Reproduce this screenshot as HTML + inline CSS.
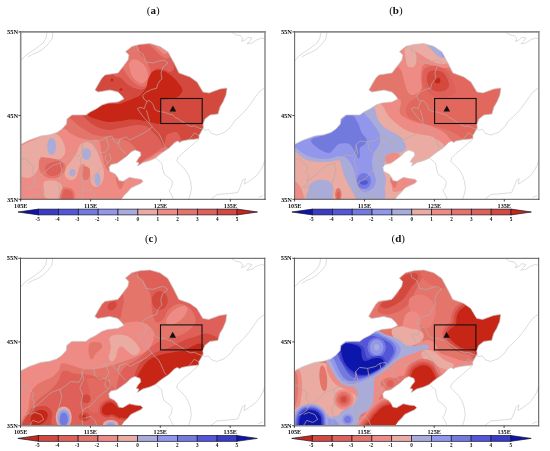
<!DOCTYPE html>
<html><head><meta charset="utf-8"><title>Figure</title>
<style>
html,body{margin:0;padding:0;background:#fff}
svg{display:block}
text{font-family:"Liberation Serif",serif;fill:#111}
.tl text{font-size:7px;font-weight:bold}
.cl text{font-size:5.2px;font-weight:bold}
.ti{font-size:11px}
</style></head><body>
<svg width="550" height="451" viewBox="0 0 550 451">
<rect width="550" height="451" fill="#fff"/>
<defs>
<filter id="soft" x="0" y="0" width="275" height="226" filterUnits="userSpaceOnUse"><feGaussianBlur stdDeviation="0.4"/></filter>
<clipPath id="reg"><path d="M20.7,144.5 L29.0,140.3 L41.0,136.0 L50.0,134.8 L57.0,132.5 L62.0,129.0 L66.5,124.0 L67.0,119.0 L72.0,115.0 L78.0,115.0 L86.0,115.0 L90.0,112.0 L96.0,109.0 L102.0,105.0 L108.0,103.0 L118.0,102.0 L124.0,99.0 L122.0,96.0 L118.0,92.0 L110.0,90.0 L98.0,92.0 L95.0,90.0 L99.0,83.0 L102.0,78.0 L105.0,75.0 L118.0,73.0 L122.0,68.0 L128.0,60.0 L129.0,55.0 L125.6,51.6 L132.0,46.4 L140.0,44.4 L150.0,43.6 L160.0,46.4 L168.0,52.0 L174.0,63.0 L179.0,73.0 L190.0,77.0 L197.0,82.0 L200.0,87.0 L203.0,92.0 L209.0,93.0 L220.0,89.0 L227.0,88.0 L226.0,95.0 L223.0,102.0 L220.0,107.0 L218.0,114.0 L210.0,115.0 L205.0,119.0 L203.0,124.0 L203.4,127.7 L200.9,132.2 L199.0,135.4 L199.0,138.5 L194.5,139.2 L188.2,139.8 L181.8,141.1 L179.9,142.4 L177.4,141.1 L174.8,142.4 L172.3,144.9 L169.1,148.1 L165.3,150.6 L161.5,153.2 L157.6,156.3 L155.1,158.3 L150.0,160.5 L143.0,162.6 L137.6,166.0 L139.0,162.6 L136.3,162.0 L138.3,158.6 L141.0,155.3 L140.3,152.0 L135.0,150.0 L131.0,152.0 L127.0,156.0 L121.6,160.0 L117.0,163.3 L111.0,164.6 L109.0,167.3 L109.6,171.3 L115.0,174.0 L117.6,177.3 L119.0,180.6 L123.0,181.3 L126.3,179.3 L129.6,177.3 L135.0,178.6 L141.0,179.3 L143.0,181.3 L141.0,183.3 L135.0,186.0 L131.0,188.0 L128.3,191.3 L124.3,195.3 L121.5,199.3 L20.7,199.3Z"/></clipPath>
<clipPath id="frm"><rect x="20.7" y="31.9" width="244.3" height="167.4"/></clipPath>
<g id="ov">
<g clip-path="url(#frm)" fill="none" stroke="#c4c4c4" stroke-width="0.6">
<path d="M231.5,31.9 L235.6,34.8 L240.5,35.6 L243.0,38.9 L241.4,41.4 L245.5,39.7 L248.0,37.3 L252.0,38.0 L250.4,40.5 L247.0,43.8 L252.0,43.0 L257.0,39.7 L261.8,38.0 L265.0,39.0"/>
<path d="M264.5,88.0 L259.0,92.0 L254.0,99.0 L249.0,106.0 L244.0,112.0 L239.0,117.0 L234.9,120.5 L232.0,125.0 L230.2,127.5 L224.5,132.3 L217.0,135.1 L211.3,133.2 L208.5,129.4 L204.7,130.4 L203.4,128.0"/>
<path d="M155.6,157.8 L158.3,160.5 L161.8,163.1 L162.7,169.3 L164.5,174.6 L169.8,178.2 L172.5,181.7 L171.6,187.0 L169.0,190.6 L171.6,195.0 L173.4,199.3"/>
<path d="M199.0,139.0 L193.8,143.6 L187.6,149.0 L182.2,153.4 L177.8,157.8 L176.9,161.3 L180.5,164.9 L184.9,169.3 L188.4,174.6 L190.7,181.7 L191.5,188.8 L190.2,195.0 L188.4,199.3"/>
<path d="M211.0,199.3 L212.3,198.3 L217.0,194.5 L228.3,193.6 L237.7,192.6 L240.6,186.0 L242.5,180.4 L245.3,178.5 L244.3,184.2 L249.0,181.3 L256.6,175.7 L261.3,169.0 L263.2,165.3 L265.0,160.0"/>
<path d="M258.5,197.4 L263.2,195.5"/>
<path d="M47.0,31.8 L46.0,38.0 L43.0,43.0 L38.0,47.0 L33.0,50.5 L25.4,55.6 L20.9,60.7"/>
<path d="M53.0,31.8 L52.5,36.0 L52.0,39.0 L48.0,44.0 L43.0,49.0 L38.0,52.0 L33.0,54.0 L28.0,57.0"/>
</g>
<path d="M20.7,144.5 L29.0,140.3 L41.0,136.0 L50.0,134.8 L57.0,132.5 L62.0,129.0 L66.5,124.0 L67.0,119.0 L72.0,115.0 L78.0,115.0 L86.0,115.0 L90.0,112.0 L96.0,109.0 L102.0,105.0 L108.0,103.0 L118.0,102.0 L124.0,99.0 L122.0,96.0 L118.0,92.0 L110.0,90.0 L98.0,92.0 L95.0,90.0 L99.0,83.0 L102.0,78.0 L105.0,75.0 L118.0,73.0 L122.0,68.0 L128.0,60.0 L129.0,55.0 L125.6,51.6 L132.0,46.4 L140.0,44.4 L150.0,43.6 L160.0,46.4 L168.0,52.0 L174.0,63.0 L179.0,73.0 L190.0,77.0 L197.0,82.0 L200.0,87.0 L203.0,92.0 L209.0,93.0 L220.0,89.0 L227.0,88.0 L226.0,95.0 L223.0,102.0 L220.0,107.0 L218.0,114.0 L210.0,115.0 L205.0,119.0 L203.0,124.0 L203.4,127.7 L200.9,132.2 L199.0,135.4 L199.0,138.5 L194.5,139.2 L188.2,139.8 L181.8,141.1 L179.9,142.4 L177.4,141.1 L174.8,142.4 L172.3,144.9 L169.1,148.1 L165.3,150.6 L161.5,153.2 L157.6,156.3 L155.1,158.3 L150.0,160.5 L143.0,162.6 L137.6,166.0 L139.0,162.6 L136.3,162.0 L138.3,158.6 L141.0,155.3 L140.3,152.0 L135.0,150.0 L131.0,152.0 L127.0,156.0 L121.6,160.0 L117.0,163.3 L111.0,164.6 L109.0,167.3 L109.6,171.3 L115.0,174.0 L117.6,177.3 L119.0,180.6 L123.0,181.3 L126.3,179.3 L129.6,177.3 L135.0,178.6 L141.0,179.3 L143.0,181.3 L141.0,183.3 L135.0,186.0 L131.0,188.0 L128.3,191.3 L124.3,195.3" fill="none" stroke="#c9c1c1" stroke-width="0.7"/>
<g fill="none" stroke="#b9aaa8" stroke-width="0.7" stroke-linejoin="round">
<path d="M137.0,46.0 L138.0,51.0 L143.0,54.0 L146.0,62.0 L153.0,63.0 L159.0,61.0 L164.0,60.0 L168.0,63.0 L163.0,67.0 L161.0,73.0 L162.0,79.0 L160.5,80.0 L157.9,83.8 L156.6,88.3 L151.5,89.5 L146.5,92.0 L142.6,95.3 L143.9,99.0 L147.0,101.6 L145.2,105.4 L144.5,108.6 L140.1,107.4 L137.5,108.6 L139.5,111.8 L141.8,115.0 L145.0,118.9 L148.8,122.7 L152.0,126.5 L155.2,130.4 L158.4,132.9 L160.9,137.4 L162.8,141.8 L164.7,146.3 L166.6,148.5"/>
<path d="M147.0,101.6 L149.0,100.4 L151.5,102.3 L153.5,105.4 L154.7,109.3 L157.9,111.2 L161.1,111.8 L165.5,112.4 L168.1,113.7 L173.2,115.0 L175.1,117.5 L178.3,118.8 L180.8,120.7 L184.0,122.6 L187.0,124.6 L190.8,126.5 L194.6,125.9 L198.4,127.8 L202.3,129.0"/>
<path d="M146.3,110.0 L148.2,116.4 L149.5,121.5"/>
<path d="M189.4,139.2 L192.0,136.0 L194.5,132.8 L196.4,134.0 L199.0,135.4"/>
<path d="M25.0,189.0 L29.0,187.0 L33.0,184.0 L35.0,180.0 L39.0,177.0 L45.0,172.0 L49.0,168.0 L54.0,165.0 L60.0,163.0 L65.0,160.0 L71.0,155.0 L79.0,156.0 L82.0,151.0 L82.0,145.0 L86.0,141.0 L94.0,142.0 L102.0,140.0 L106.0,137.0 L112.0,136.0 L114.0,141.0 L118.0,144.0 L120.0,139.0 L126.0,137.0 L130.0,140.0 L136.0,137.0 L144.0,133.0 L150.0,129.0 L152.0,126.5"/>
<path d="M82.0,145.0 L84.0,153.0 L80.0,161.0 L83.0,169.0 L81.0,177.0 L83.0,185.0 L82.0,192.0 L83.0,199.0"/>
<path d="M60.0,163.0 L62.0,170.0 L60.0,178.0 L58.0,184.0 L60.0,190.0 L58.0,199.0"/>
<path d="M21.0,160.0 L26.0,158.0 L29.0,163.0 L34.0,167.0 L32.0,172.0 L35.0,176.0 L33.0,181.0 L35.0,180.0"/>
<path d="M30.0,188.0 L35.0,186.0 L41.0,188.0 L44.0,193.0 L39.0,196.0 L33.0,194.0 L30.0,199.0"/>
<path d="M94.0,142.0 L95.0,149.0 L100.0,153.0 L106.0,152.0 L109.0,147.0 L107.0,141.0 L106.0,137.0"/>
<path d="M109.0,153.0 L111.0,159.0 L108.0,163.0 L105.0,159.0 L106.0,154.0"/>
<path d="M120.0,139.0 L118.0,145.0 L122.0,150.0 L126.0,154.0"/>
<path d="M108.0,163.0 L103.0,167.0 L98.0,171.0 L94.0,176.0 L90.0,180.0 L85.0,182.0 L83.0,185.0"/>
<path d="M83.0,192.0 L91.0,190.0 L95.0,194.0 L97.0,199.0"/>
</g>
</g>
<g id="ov2">
<g stroke="#222" stroke-width="0.8"><path d="M20.7,199.3 v2.2"/><path d="M90.6,199.3 v2.2"/><path d="M160.5,199.3 v2.2"/><path d="M230.4,199.3 v2.2"/><path d="M20.7,31.9 h-2.2"/><path d="M20.7,115.5 h-2.2"/><path d="M20.7,199.3 h-2.2"/></g>
<g class="tl"><text x="14.1" y="207.5" textLength="13.4" lengthAdjust="spacingAndGlyphs">105E</text><text x="83.9" y="207.5" textLength="13.4" lengthAdjust="spacingAndGlyphs">115E</text><text x="153.8" y="207.5" textLength="13.4" lengthAdjust="spacingAndGlyphs">125E</text><text x="223.7" y="207.5" textLength="13.4" lengthAdjust="spacingAndGlyphs">135E</text><text x="7.0" y="34.1" textLength="11" lengthAdjust="spacingAndGlyphs">55N</text><text x="7.0" y="117.7" textLength="11" lengthAdjust="spacingAndGlyphs">45N</text><text x="7.0" y="201.5" textLength="11" lengthAdjust="spacingAndGlyphs">35N</text></g>
<rect x="160.7" y="98.5" width="41.5" height="25" fill="none" stroke="#111" stroke-width="1.1"/>
<path d="M172.9,105.4 L176.2,111.4 L169.6,111.4Z" fill="#111"/>
</g>
</defs>
<g transform="translate(0.0,0.0)">
<g clip-path="url(#reg)"><g filter="url(#soft)">
<rect x="0" y="0" width="275" height="226" fill="#d3493d"/>
<path fill="#df6158" d="M112.0,72.0 C112.5,77.7 118.5,76.0 121.0,78.0 C123.5,80.0 124.8,82.3 127.0,84.0 C129.2,85.7 131.5,87.1 134.0,88.0 C136.5,88.9 139.7,89.8 142.0,89.5 C144.3,89.2 146.6,87.9 148.0,86.0 C149.4,84.1 149.7,80.4 150.5,78.0 C151.3,75.6 151.8,73.1 153.0,71.5 C154.2,69.9 156.0,68.8 158.0,68.5 C160.0,68.2 163.0,69.4 165.0,70.0 C167.0,70.6 168.5,72.3 170.0,72.0 C171.5,71.7 173.5,70.0 174.0,68.0 C174.5,66.0 172.3,63.0 173.0,60.0 C173.7,57.0 180.2,53.7 178.0,50.0 C175.8,46.3 166.3,40.0 160.0,38.0 C153.7,36.0 147.0,37.0 140.0,38.0 C133.0,39.0 122.7,38.3 118.0,44.0 C113.3,49.7 111.5,66.3 112.0,72.0Z"/>
<path fill="#e4746a" d="M118.0,56.0 C117.8,60.3 121.5,64.8 123.0,68.0 C124.5,71.2 125.5,72.8 127.0,75.0 C128.5,77.2 130.2,79.2 132.0,81.0 C133.8,82.8 136.0,84.6 138.0,85.5 C140.0,86.4 142.2,86.9 144.0,86.5 C145.8,86.1 147.4,84.6 148.5,83.0 C149.6,81.4 150.2,79.2 150.5,77.0 C150.8,74.8 150.4,72.2 150.0,70.0 C149.6,67.8 148.8,65.8 148.0,64.0 C147.2,62.2 146.3,60.7 145.0,59.0 C143.7,57.3 141.3,56.2 140.0,54.0 C138.7,51.8 139.7,48.0 137.0,46.0 C134.3,44.0 127.2,40.3 124.0,42.0 C120.8,43.7 118.2,51.7 118.0,56.0Z"/>
<path fill="#ee8b85" d="M129.0,64.0 C128.5,65.8 129.5,68.0 130.0,70.0 C130.5,72.0 131.0,74.2 132.0,76.0 C133.0,77.8 134.5,79.3 136.0,80.5 C137.5,81.7 139.3,83.3 141.0,83.4 C142.7,83.5 144.8,82.2 146.0,81.0 C147.2,79.8 147.8,77.8 148.0,76.0 C148.2,74.2 147.7,71.8 147.0,70.0 C146.3,68.2 145.3,66.5 144.0,65.0 C142.7,63.5 140.8,61.9 139.0,61.0 C137.2,60.1 134.7,59.0 133.0,59.5 C131.3,60.0 129.5,62.2 129.0,64.0Z"/>
<path fill="#e4746a" d="M148.0,42.0 C147.7,43.8 152.0,46.8 154.0,49.0 C156.0,51.2 158.0,53.4 160.0,55.0 C162.0,56.6 164.2,58.3 166.0,58.5 C167.8,58.7 170.0,57.4 171.0,56.0 C172.0,54.6 173.2,52.7 172.0,50.0 C170.8,47.3 166.7,42.0 164.0,40.0 C161.3,38.0 158.7,37.7 156.0,38.0 C153.3,38.3 148.3,40.2 148.0,42.0Z"/>
<path fill="#ee8b85" d="M154.0,44.0 C154.0,45.5 157.3,48.3 159.0,50.0 C160.7,51.7 162.5,53.7 164.0,54.0 C165.5,54.3 167.8,53.3 168.0,52.0 C168.2,50.7 166.5,47.8 165.0,46.0 C163.5,44.2 160.8,41.3 159.0,41.0 C157.2,40.7 154.0,42.5 154.0,44.0Z"/>
<path fill="#c72716" d="M88.0,115.0 C88.3,113.4 95.3,108.5 98.0,107.0 C100.7,105.5 105.3,104.4 108.0,104.0 C110.7,103.6 115.7,104.3 118.0,104.0 C120.3,103.7 123.1,102.7 125.0,102.0 C126.9,101.3 130.0,99.9 132.0,99.0 C134.0,98.1 138.1,97.0 140.0,95.5 C141.9,94.0 144.9,90.1 146.0,88.0 C147.1,85.9 147.2,82.1 148.0,80.0 C148.8,77.9 150.7,73.3 152.0,72.0 C153.3,70.7 156.1,70.0 158.0,70.0 C159.9,70.0 163.9,70.9 166.0,72.0 C168.1,73.1 172.1,76.3 174.0,78.0 C175.9,79.7 178.9,83.4 180.0,85.0 C181.1,86.6 182.5,88.7 182.5,90.0 C182.5,91.3 181.1,93.9 180.0,95.0 C178.9,96.1 176.3,97.9 174.0,98.5 C171.7,99.1 164.8,99.3 163.0,99.5 C161.2,99.7 160.8,96.9 160.5,100.0 C160.2,103.1 161.9,119.9 160.5,122.8 C159.1,125.7 152.7,122.4 150.0,122.0 C147.3,121.6 142.7,120.3 140.0,120.0 C137.3,119.7 132.7,119.4 130.0,119.5 C127.3,119.6 122.9,120.7 120.0,121.0 C117.1,121.3 111.2,122.3 108.0,122.0 C104.8,121.7 98.7,119.9 96.0,119.0 C93.3,118.1 87.7,116.6 88.0,115.0Z"/>
<circle fill="#c72716" cx="112.0" cy="80.0" r="1.5"/>
<circle fill="#c72716" cx="121.0" cy="89.6" r="1.5"/>
<path fill="#df6158" d="M62.0,108.0 C67.0,106.8 76.3,113.0 80.0,114.5 C83.7,116.0 82.0,115.4 84.0,117.0 C86.0,118.6 89.3,122.2 92.0,124.0 C94.7,125.8 97.0,127.0 100.0,128.0 C103.0,129.0 106.7,130.0 110.0,130.0 C113.3,130.0 116.7,128.7 120.0,128.0 C123.3,127.3 126.7,126.5 130.0,126.0 C133.3,125.5 137.0,124.8 140.0,125.0 C143.0,125.2 146.0,126.0 148.0,127.0 C150.0,128.0 150.7,129.7 152.0,131.0 C153.3,132.3 154.7,133.5 156.0,135.0 C157.3,136.5 158.7,138.0 160.0,140.0 C161.3,142.0 162.3,145.0 164.0,147.0 C165.7,149.0 167.3,149.5 170.0,152.0 C172.7,154.5 178.3,152.3 180.0,162.0 C181.7,171.7 208.3,202.0 180.0,210.0 C151.7,218.0 38.3,223.7 10.0,210.0 C-18.3,196.3 3.3,142.7 10.0,128.0 C16.7,113.3 41.3,125.3 50.0,122.0 C58.7,118.7 57.0,109.2 62.0,108.0Z"/>
<path fill="#e4746a" d="M56.0,112.0 C65.7,110.2 64.3,114.8 68.0,117.0 C71.7,119.2 74.3,122.3 78.0,125.0 C81.7,127.7 86.3,131.2 90.0,133.0 C93.7,134.8 96.8,135.3 100.0,136.0 C103.2,136.7 105.8,136.6 109.0,137.0 C112.2,137.4 115.8,137.8 119.0,138.5 C122.2,139.2 125.7,140.3 128.0,141.5 C130.3,142.7 131.7,144.1 133.0,145.5 C134.3,146.9 135.8,147.9 136.0,150.0 C136.2,152.1 135.0,148.0 134.0,158.0 C133.0,168.0 150.7,201.3 130.0,210.0 C109.3,218.7 30.0,223.7 10.0,210.0 C-10.0,196.3 2.3,144.3 10.0,128.0 C17.7,111.7 46.3,113.8 56.0,112.0Z"/>
<path fill="#df6158" d="M166.5,135.4 C167.5,133.9 169.3,133.5 171.0,133.0 C172.7,132.5 175.1,131.4 176.7,132.2 C178.3,133.0 179.9,136.0 180.5,138.0 C181.1,140.0 181.4,143.0 180.5,144.0 C179.6,145.0 176.8,143.2 175.0,144.0 C173.2,144.8 171.8,148.2 170.0,149.0 C168.2,149.8 164.8,150.2 164.0,149.0 C163.2,147.8 164.6,144.3 165.0,142.0 C165.4,139.7 165.5,136.9 166.5,135.4Z"/>
<path fill="#e4746a" d="M138.0,172.0 C134.8,171.2 139.7,165.2 141.0,163.0 C142.3,160.8 144.2,159.8 146.0,158.5 C147.8,157.2 150.0,156.2 152.0,155.0 C154.0,153.8 156.2,152.2 158.0,151.0 C159.8,149.8 161.3,147.7 163.0,147.5 C164.7,147.3 168.5,146.6 168.0,150.0 C167.5,153.4 165.0,164.3 160.0,168.0 C155.0,171.7 141.2,172.8 138.0,172.0Z"/>
<path fill="#ee8b85" d="M10.0,126.0 C18.3,112.3 50.0,126.8 60.0,128.0 C70.0,129.2 66.7,131.3 70.0,133.0 C73.3,134.7 76.7,136.8 80.0,138.0 C83.3,139.2 87.2,139.8 90.0,140.0 C92.8,140.2 95.3,139.0 97.0,139.5 C98.7,140.0 99.3,141.2 100.0,143.0 C100.7,144.8 100.5,147.5 101.0,150.0 C101.5,152.5 102.4,155.5 103.0,158.0 C103.6,160.5 103.8,163.0 104.5,165.0 C105.2,167.0 106.2,168.8 107.5,170.0 C108.8,171.2 110.6,171.0 112.0,172.0 C113.4,173.0 114.8,174.2 116.0,176.0 C117.2,177.8 117.3,182.7 119.0,183.0 C120.7,183.3 123.3,179.3 126.0,178.0 C128.7,176.7 131.0,175.3 135.0,175.0 C139.0,174.7 147.5,170.2 150.0,176.0 C152.5,181.8 173.3,204.3 150.0,210.0 C126.7,215.7 33.3,224.0 10.0,210.0 C-13.3,196.0 1.7,139.7 10.0,126.0Z"/>
<path fill="#ee8b85" d="M142.0,163.0 C143.3,161.0 147.0,159.8 150.0,158.0 C153.0,156.2 157.3,152.7 160.0,152.0 C162.7,151.3 166.7,151.8 166.0,154.0 C165.3,156.2 160.0,162.3 156.0,165.0 C152.0,167.7 144.3,170.3 142.0,170.0 C139.7,169.7 140.7,165.0 142.0,163.0Z"/>
<path fill="#e4746a" d="M116.0,178.0 C117.0,177.0 123.2,178.2 124.0,180.0 C124.8,181.8 122.0,188.0 121.0,189.0 C120.0,190.0 118.8,187.8 118.0,186.0 C117.2,184.2 115.0,179.0 116.0,178.0Z"/>
<path fill="#e9aba2" d="M18.0,150.0 C19.5,145.2 24.3,144.7 27.0,143.0 C29.7,141.3 30.7,141.5 34.0,140.0 C37.3,138.5 43.0,134.8 47.0,134.0 C51.0,133.2 55.2,133.3 58.0,135.0 C60.8,136.7 62.8,141.0 64.0,144.0 C65.2,147.0 65.7,150.5 65.0,153.0 C64.3,155.5 62.7,158.0 60.0,159.0 C57.3,160.0 52.2,159.3 49.0,159.0 C45.8,158.7 42.7,155.8 41.0,157.0 C39.3,158.2 40.0,163.2 39.0,166.0 C38.0,168.8 37.0,172.0 35.0,174.0 C33.0,176.0 29.8,178.3 27.0,178.0 C24.2,177.7 19.5,176.7 18.0,172.0 C16.5,167.3 16.5,154.8 18.0,150.0Z"/>
<path fill="#e9aba2" d="M80.0,145.0 C81.5,143.3 84.0,142.2 86.0,142.0 C88.0,141.8 90.2,142.5 92.0,144.0 C93.8,145.5 95.7,148.5 97.0,151.0 C98.3,153.5 99.0,156.3 100.0,159.0 C101.0,161.7 102.3,164.3 103.0,167.0 C103.7,169.7 104.2,172.3 104.0,175.0 C103.8,177.7 103.3,181.0 102.0,183.0 C100.7,185.0 97.8,187.0 96.0,187.0 C94.2,187.0 92.0,185.0 91.0,183.0 C90.0,181.0 90.7,177.3 90.0,175.0 C89.3,172.7 88.0,170.8 87.0,169.0 C86.0,167.2 85.2,164.5 84.0,164.0 C82.8,163.5 81.0,164.7 80.0,166.0 C79.0,167.3 78.7,170.0 78.0,172.0 C77.3,174.0 77.3,176.7 76.0,178.0 C74.7,179.3 71.8,180.3 70.0,180.0 C68.2,179.7 65.7,178.0 65.0,176.0 C64.3,174.0 64.8,170.7 66.0,168.0 C67.2,165.3 70.2,162.7 72.0,160.0 C73.8,157.3 75.7,154.5 77.0,152.0 C78.3,149.5 78.5,146.7 80.0,145.0Z"/>
<path fill="#e4746a" d="M41.0,158.0 C43.7,156.7 51.2,158.2 55.0,159.0 C58.8,159.8 62.3,161.2 64.0,163.0 C65.7,164.8 65.8,167.7 65.0,170.0 C64.2,172.3 61.7,175.7 59.0,177.0 C56.3,178.3 51.8,178.5 49.0,178.0 C46.2,177.5 43.7,175.8 42.0,174.0 C40.3,172.2 39.2,169.7 39.0,167.0 C38.8,164.3 38.3,159.3 41.0,158.0Z"/>
<path fill="#df6158" d="M45.0,168.0 C45.2,165.9 47.8,164.1 50.0,163.0 C52.2,161.9 55.8,161.3 58.0,161.5 C60.2,161.7 62.3,162.6 63.0,164.0 C63.7,165.4 63.0,168.2 62.0,170.0 C61.0,171.8 59.2,174.1 57.0,175.0 C54.8,175.9 51.0,176.7 49.0,175.5 C47.0,174.3 44.8,170.1 45.0,168.0Z"/>
<path fill="#e4746a" d="M83.0,167.0 C84.0,165.3 87.8,166.7 89.0,168.0 C90.2,169.3 90.3,173.0 90.0,175.0 C89.7,177.0 88.2,179.5 87.0,180.0 C85.8,180.5 83.7,180.2 83.0,178.0 C82.3,175.8 82.0,168.7 83.0,167.0Z"/>
<path fill="#e9aba2" d="M44.0,182.0 C45.3,180.4 49.3,180.3 52.0,180.5 C54.7,180.7 58.2,181.4 60.0,183.0 C61.8,184.6 62.5,187.5 62.5,190.0 C62.5,192.5 62.8,196.7 60.0,198.0 C57.2,199.3 48.7,199.3 46.0,198.0 C43.3,196.7 44.3,192.7 44.0,190.0 C43.7,187.3 42.7,183.6 44.0,182.0Z"/>
<path fill="#e4746a" d="M62.0,189.0 C63.3,186.4 66.2,187.3 68.0,187.5 C69.8,187.7 71.8,188.4 73.0,190.0 C74.2,191.6 75.2,194.8 75.0,197.0 C74.8,199.2 74.5,202.0 72.0,203.0 C69.5,204.0 61.7,205.3 60.0,203.0 C58.3,200.7 60.7,191.6 62.0,189.0Z"/>
<path fill="#df6158" d="M63.5,191.0 C64.5,188.8 66.6,189.3 68.0,189.5 C69.4,189.7 71.2,190.6 72.0,192.0 C72.8,193.4 73.3,196.2 73.0,198.0 C72.7,199.8 71.8,202.2 70.0,203.0 C68.2,203.8 63.1,205.0 62.0,203.0 C60.9,201.0 62.5,193.2 63.5,191.0Z"/>
<ellipse fill="#a9abd9" cx="51.6" cy="146.5" rx="4.4" ry="8.4" transform="rotate(0 51.6 146.5)"/>
<ellipse fill="#a9abd9" cx="86.5" cy="154.0" rx="4.4" ry="6.0" transform="rotate(0 86.5 154.0)"/>
<ellipse fill="#a9abd9" cx="72.4" cy="172.6" rx="3.0" ry="3.7" transform="rotate(0 72.4 172.6)"/>
<ellipse fill="#a9abd9" cx="97.6" cy="179.5" rx="3.0" ry="6.4" transform="rotate(0 97.6 179.5)"/>
</g></g>
<use href="#ov"/>
<path d="M20.7,31.1 V199.8" fill="none" stroke="#8a8a8a" stroke-width="1.6"/><path d="M265.0,31.1 V199.8" fill="none" stroke="#8a8a8a" stroke-width="1.5"/><path d="M19.9,31.9 H265.8" fill="none" stroke="#8a8a8a" stroke-width="1.6"/><path d="M19.9,199.3 H265.8" fill="none" stroke="#444" stroke-width="0.9"/>
<use href="#ov2"/>
<g stroke="#15152a" stroke-width="0.7" stroke-linejoin="miter"><path d="M38.6,209.1 L18.0,212.0 L38.6,214.9 Z" fill="#0c14aa"/><rect x="38.60" y="209.1" width="19.85" height="5.8" fill="#3a3cc6"/><rect x="58.45" y="209.1" width="19.85" height="5.8" fill="#5356d8"/><rect x="78.30" y="209.1" width="19.85" height="5.8" fill="#737ade"/><rect x="98.15" y="209.1" width="19.85" height="5.8" fill="#9297ec"/><rect x="118.00" y="209.1" width="19.85" height="5.8" fill="#a9abd9"/><rect x="137.85" y="209.1" width="19.85" height="5.8" fill="#e9aba2"/><rect x="157.70" y="209.1" width="19.85" height="5.8" fill="#ee8b85"/><rect x="177.55" y="209.1" width="19.85" height="5.8" fill="#e4746a"/><rect x="197.40" y="209.1" width="19.85" height="5.8" fill="#df6158"/><rect x="217.25" y="209.1" width="19.85" height="5.8" fill="#d3493d"/><path d="M237.1,209.1 L257.5,212.0 L237.1,214.9 Z" fill="#c72716"/></g>
<g class="cl"><text x="37.6" y="220.6" text-anchor="middle">-5</text><text x="57.5" y="220.6" text-anchor="middle">-4</text><text x="77.3" y="220.6" text-anchor="middle">-3</text><text x="97.2" y="220.6" text-anchor="middle">-2</text><text x="117.0" y="220.6" text-anchor="middle">-1</text><text x="137.8" y="220.6" text-anchor="middle">0</text><text x="157.7" y="220.6" text-anchor="middle">1</text><text x="177.6" y="220.6" text-anchor="middle">2</text><text x="197.4" y="220.6" text-anchor="middle">3</text><text x="217.2" y="220.6" text-anchor="middle">4</text><text x="237.1" y="220.6" text-anchor="middle">5</text></g>
</g>
<text class="ti" x="153.2" y="14.2" text-anchor="middle">(<tspan font-weight="bold">a</tspan>)</text>
<g transform="translate(273.9,0.0)">
<g clip-path="url(#reg)"><g filter="url(#soft)">
<rect x="0" y="0" width="275" height="226" fill="#e4746a"/>
<path fill="#e2675d" d="M150.0,70.0 C151.7,66.7 155.3,66.7 158.0,66.0 C160.7,65.3 163.3,65.3 166.0,66.0 C168.7,66.7 171.3,68.7 174.0,70.0 C176.7,71.3 179.3,73.7 182.0,74.0 C184.7,74.3 187.0,72.7 190.0,72.0 C193.0,71.3 191.7,70.3 200.0,70.0 C208.3,69.7 233.3,57.5 240.0,70.0 C246.7,82.5 247.3,133.2 240.0,145.0 C232.7,156.8 204.7,142.2 196.0,141.0 C187.3,139.8 190.3,139.2 188.0,138.0 C185.7,136.8 184.3,135.3 182.0,134.0 C179.7,132.7 177.7,131.3 174.0,130.0 C170.3,128.7 164.7,127.3 160.0,126.0 C155.3,124.7 150.0,123.3 146.0,122.0 C142.0,120.7 138.3,120.0 136.0,118.0 C133.7,116.0 132.0,112.7 132.0,110.0 C132.0,107.3 134.0,104.3 136.0,102.0 C138.0,99.7 142.0,98.7 144.0,96.0 C146.0,93.3 147.0,90.3 148.0,86.0 C149.0,81.7 148.3,73.3 150.0,70.0Z"/>
<path fill="#ee8b85" d="M122.0,62.0 C121.8,58.7 124.0,53.0 126.0,50.0 C128.0,47.0 130.0,45.7 134.0,44.0 C138.0,42.3 144.0,40.7 150.0,40.0 C156.0,39.3 165.0,37.3 170.0,40.0 C175.0,42.7 178.7,51.7 180.0,56.0 C181.3,60.3 179.7,64.0 178.0,66.0 C176.3,68.0 173.0,68.0 170.0,68.0 C167.0,68.0 163.0,66.7 160.0,66.0 C157.0,65.3 154.0,63.7 152.0,64.0 C150.0,64.3 148.8,65.3 148.0,68.0 C147.2,70.7 147.0,76.7 147.0,80.0 C147.0,83.3 148.5,85.8 148.0,88.0 C147.5,90.2 145.8,91.8 144.0,93.0 C142.2,94.2 138.8,95.5 137.0,95.0 C135.2,94.5 134.2,92.5 133.0,90.0 C131.8,87.5 131.0,83.3 130.0,80.0 C129.0,76.7 128.3,73.0 127.0,70.0 C125.7,67.0 122.2,65.3 122.0,62.0Z"/>
<path fill="#e9aba2" d="M134.0,46.0 C134.0,48.0 138.0,48.7 140.0,50.0 C142.0,51.3 144.0,52.7 146.0,54.0 C148.0,55.3 149.7,56.7 152.0,58.0 C154.3,59.3 157.3,61.0 160.0,62.0 C162.7,63.0 165.3,64.0 168.0,64.0 C170.7,64.0 174.3,63.7 176.0,62.0 C177.7,60.3 179.3,57.7 178.0,54.0 C176.7,50.3 174.3,42.7 168.0,40.0 C161.7,37.3 145.7,37.0 140.0,38.0 C134.3,39.0 134.0,44.0 134.0,46.0Z"/>
<path fill="#e9aba2" d="M131.0,49.0 C131.7,46.8 134.3,46.8 136.0,47.0 C137.7,47.2 139.9,48.2 141.0,50.0 C142.1,51.8 142.3,55.7 142.5,58.0 C142.7,60.3 142.6,62.5 142.0,64.0 C141.4,65.5 140.3,66.6 139.0,67.0 C137.7,67.4 135.2,67.7 134.0,66.5 C132.8,65.3 132.5,62.9 132.0,60.0 C131.5,57.1 130.3,51.2 131.0,49.0Z"/>
<path fill="#a9abd9" d="M152.0,42.0 C152.0,44.0 156.0,47.7 158.0,50.0 C160.0,52.3 162.0,54.7 164.0,56.0 C166.0,57.3 168.2,58.3 170.0,58.0 C171.8,57.7 175.3,56.7 175.0,54.0 C174.7,51.3 170.8,44.7 168.0,42.0 C165.2,39.3 160.7,38.0 158.0,38.0 C155.3,38.0 152.0,40.0 152.0,42.0Z"/>
<path fill="#9297ec" d="M164.0,47.0 C164.0,48.3 166.2,50.3 167.0,52.0 C167.8,53.7 168.2,56.3 169.0,57.0 C169.8,57.7 171.8,57.5 172.0,56.0 C172.2,54.5 170.8,50.0 170.0,48.0 C169.2,46.0 168.0,44.2 167.0,44.0 C166.0,43.8 164.0,45.7 164.0,47.0Z"/>
<path fill="#df6158" d="M150.0,70.0 C151.6,67.7 155.3,66.5 158.0,66.0 C160.7,65.5 163.5,66.0 166.0,67.0 C168.5,68.0 170.8,69.5 173.0,72.0 C175.2,74.5 177.5,78.8 179.0,82.0 C180.5,85.2 182.3,88.7 182.0,91.0 C181.7,93.3 179.5,94.9 177.0,96.0 C174.5,97.1 170.2,97.6 167.0,97.5 C163.8,97.4 160.5,96.9 158.0,95.5 C155.5,94.1 153.6,91.6 152.0,89.0 C150.4,86.4 148.8,83.2 148.5,80.0 C148.2,76.8 148.4,72.3 150.0,70.0Z"/>
<path fill="#d3493d" d="M155.0,72.0 C156.5,70.9 159.7,70.4 162.0,70.5 C164.3,70.6 167.1,71.1 169.0,72.5 C170.9,73.9 172.5,76.8 173.5,79.0 C174.5,81.2 175.4,84.1 175.0,86.0 C174.6,87.9 172.8,89.6 171.0,90.5 C169.2,91.4 166.2,91.8 164.0,91.5 C161.8,91.2 159.2,90.4 157.5,89.0 C155.8,87.6 154.2,85.0 153.5,83.0 C152.8,81.0 152.8,78.8 153.0,77.0 C153.2,75.2 153.5,73.1 155.0,72.0Z"/>
<circle fill="#c72716" cx="163.6" cy="80.6" r="2.9"/>
<path fill="#ee8b85" d="M92.0,98.0 C99.3,97.5 101.0,104.7 104.0,105.0 C107.0,105.3 107.3,101.2 110.0,100.0 C112.7,98.8 117.2,97.8 120.0,98.0 C122.8,98.2 126.0,98.5 127.0,101.0 C128.0,103.5 124.8,110.0 126.0,113.0 C127.2,116.0 131.0,117.3 134.0,119.0 C137.0,120.7 140.7,122.0 144.0,123.0 C147.3,124.0 150.7,124.0 154.0,125.0 C157.3,126.0 161.0,127.5 164.0,129.0 C167.0,130.5 169.7,131.8 172.0,134.0 C174.3,136.2 176.3,139.3 178.0,142.0 C179.7,144.7 183.3,144.5 182.0,150.0 C180.7,155.5 175.3,165.8 170.0,175.0 C164.7,184.2 176.7,200.0 150.0,205.0 C123.3,210.0 33.3,219.2 10.0,205.0 C-13.3,190.8 1.7,136.2 10.0,120.0 C18.3,103.8 46.3,111.7 60.0,108.0 C73.7,104.3 84.7,98.5 92.0,98.0Z"/>
<path fill="#e9aba2" d="M96.0,98.0 C104.0,97.5 105.0,102.2 108.0,105.0 C111.0,107.8 111.7,112.0 114.0,115.0 C116.3,118.0 119.0,120.5 122.0,123.0 C125.0,125.5 128.3,128.2 132.0,130.0 C135.7,131.8 140.0,133.0 144.0,134.0 C148.0,135.0 152.7,135.0 156.0,136.0 C159.3,137.0 161.7,138.5 164.0,140.0 C166.3,141.5 168.7,143.0 170.0,145.0 C171.3,147.0 173.7,147.8 172.0,152.0 C170.3,156.2 163.7,161.2 160.0,170.0 C156.3,178.8 175.0,199.2 150.0,205.0 C125.0,210.8 33.3,219.2 10.0,205.0 C-13.3,190.8 1.7,136.2 10.0,120.0 C18.3,103.8 45.7,111.7 60.0,108.0 C74.3,104.3 88.0,98.5 96.0,98.0Z"/>
<path fill="#a9abd9" d="M90.0,100.0 C96.7,99.8 97.8,104.2 100.0,107.0 C102.2,109.8 101.7,114.0 103.0,117.0 C104.3,120.0 105.8,122.7 108.0,125.0 C110.2,127.3 113.3,129.3 116.0,131.0 C118.7,132.7 121.7,133.3 124.0,135.0 C126.3,136.7 128.7,138.8 130.0,141.0 C131.3,143.2 132.3,146.2 132.0,148.0 C131.7,149.8 130.0,151.2 128.0,152.0 C126.0,152.8 122.3,152.5 120.0,153.0 C117.7,153.5 115.5,153.3 114.0,155.0 C112.5,156.7 111.7,160.3 111.0,163.0 C110.3,165.7 109.8,168.3 110.0,171.0 C110.2,173.7 111.8,176.3 112.0,179.0 C112.2,181.7 111.5,182.7 111.0,187.0 C110.5,191.3 113.5,202.0 109.0,205.0 C104.5,208.0 88.4,205.9 84.0,205.0 C79.6,204.1 83.4,201.8 82.5,199.6 C81.6,197.4 80.2,194.8 78.7,192.0 C77.2,189.2 75.1,186.0 73.6,183.0 C72.1,180.0 70.8,177.1 69.8,174.2 C68.8,171.2 68.1,167.7 67.3,165.3 C66.5,162.9 66.4,160.4 64.7,159.8 C63.0,159.2 60.2,161.1 57.0,161.5 C53.8,161.9 49.2,162.1 45.6,162.0 C42.0,161.9 38.5,161.6 35.5,160.8 C32.5,160.0 30.2,158.6 27.8,157.0 C25.4,155.4 24.0,153.0 21.0,151.5 C18.0,150.0 11.8,151.6 10.0,148.0 C8.2,144.4 1.7,136.7 10.0,130.0 C18.3,123.3 46.7,113.0 60.0,108.0 C73.3,103.0 83.3,100.2 90.0,100.0Z"/>
<path fill="#9297ec" d="M80.0,106.0 C85.0,106.8 86.7,109.8 90.0,113.0 C93.3,116.2 97.3,121.3 100.0,125.0 C102.7,128.7 105.2,131.7 106.0,135.0 C106.8,138.3 106.0,142.0 105.0,145.0 C104.0,148.0 101.2,150.0 100.0,153.0 C98.8,156.0 98.0,159.7 98.0,163.0 C98.0,166.3 99.3,170.0 100.0,173.0 C100.7,176.0 102.2,178.5 102.0,181.0 C101.8,183.5 100.8,186.2 99.0,188.0 C97.2,189.8 93.3,192.0 91.0,192.0 C88.7,192.0 86.5,190.0 85.0,188.0 C83.5,186.0 82.8,183.0 82.0,180.0 C81.2,177.0 81.0,173.0 80.0,170.0 C79.0,167.0 77.5,164.2 76.0,162.0 C74.5,159.8 73.1,157.9 71.0,157.0 C68.9,156.1 66.3,156.1 63.4,156.4 C60.4,156.7 56.5,158.4 53.3,158.8 C50.1,159.2 47.4,159.0 44.4,158.6 C41.4,158.2 38.3,157.5 35.5,156.5 C32.7,155.5 30.2,154.0 27.8,152.5 C25.4,151.0 24.0,148.8 21.0,147.5 C18.0,146.2 11.8,148.8 10.0,145.0 C8.2,141.2 1.7,131.2 10.0,125.0 C18.3,118.8 48.3,111.2 60.0,108.0 C71.7,104.8 75.0,105.2 80.0,106.0Z"/>
<path fill="#737ade" d="M38.0,139.0 C40.0,137.5 47.2,136.5 51.0,135.0 C54.8,133.5 58.3,132.2 61.0,130.0 C63.7,127.8 65.2,124.3 67.0,122.0 C68.8,119.7 70.2,117.3 72.0,116.0 C73.8,114.7 76.0,112.8 78.0,114.0 C80.0,115.2 82.3,119.8 84.0,123.0 C85.7,126.2 86.5,130.2 88.0,133.0 C89.5,135.8 92.7,138.0 93.0,140.0 C93.3,142.0 91.2,143.7 90.0,145.0 C88.8,146.3 86.7,146.2 86.0,148.0 C85.3,149.8 86.3,154.3 86.0,156.0 C85.7,157.7 85.0,159.0 84.0,158.0 C83.0,157.0 81.5,152.3 80.0,150.0 C78.5,147.7 77.5,145.0 75.0,144.0 C72.5,143.0 67.5,143.2 65.0,144.0 C62.5,144.8 61.7,147.5 60.0,149.0 C58.3,150.5 57.2,152.8 55.0,153.0 C52.8,153.2 49.7,151.5 47.0,150.0 C44.3,148.5 40.5,145.8 39.0,144.0 C37.5,142.2 36.0,140.5 38.0,139.0Z"/>
<ellipse fill="#737ade" cx="90.0" cy="181.0" rx="7.0" ry="8.0" transform="rotate(0 90.0 181.0)"/>
<ellipse fill="#5356d8" cx="90.0" cy="182.4" rx="4.0" ry="2.4" transform="rotate(0 90.0 182.4)"/>
<path fill="#e9aba2" d="M10.0,148.5 C11.8,139.7 18.0,150.5 21.0,152.0 C24.0,153.5 25.4,155.9 27.8,157.5 C30.2,159.1 32.5,160.5 35.5,161.3 C38.5,162.1 42.0,162.4 45.6,162.5 C49.2,162.6 53.9,162.4 57.0,162.0 C60.1,161.6 62.8,159.7 64.5,160.3 C66.2,160.9 66.2,163.2 67.0,165.5 C67.8,167.8 68.5,171.5 69.5,174.4 C70.5,177.3 71.8,180.2 73.3,183.2 C74.8,186.2 76.9,189.4 78.4,192.2 C79.9,195.0 81.4,197.7 82.2,199.8 C83.0,201.9 95.5,204.1 83.5,205.0 C71.5,205.9 22.2,214.4 10.0,205.0 C-2.2,195.6 8.2,157.3 10.0,148.5Z"/>
<path fill="#ee8b85" d="M14.0,180.0 C15.3,176.2 19.7,180.3 22.0,182.0 C24.3,183.7 26.7,186.2 28.0,190.0 C29.3,193.8 32.3,202.5 30.0,205.0 C27.7,207.5 16.7,209.2 14.0,205.0 C11.3,200.8 12.7,183.8 14.0,180.0Z"/>
<path fill="#a9abd9" d="M34.5,189.0 C35.1,185.3 35.8,184.5 37.5,183.0 C39.2,181.5 41.8,180.4 44.5,180.0 C47.2,179.6 51.2,179.8 53.5,180.5 C55.8,181.2 57.1,182.8 58.0,184.5 C58.9,186.2 58.9,187.6 58.6,191.0 C58.3,194.4 60.1,202.7 56.0,205.0 C51.9,207.3 37.6,207.7 34.0,205.0 C30.4,202.3 33.9,192.7 34.5,189.0Z"/>
<ellipse fill="#e4746a" cx="64.4" cy="194.5" rx="3.2" ry="6.5" transform="rotate(0 64.4 194.5)"/>
<ellipse fill="#df6158" cx="64.4" cy="195.5" rx="1.6" ry="4.0" transform="rotate(0 64.4 195.5)"/>
<path fill="#ee8b85" d="M112.0,156.0 C113.0,154.5 115.8,153.3 118.0,153.0 C120.2,152.7 123.7,152.8 125.0,154.0 C126.3,155.2 126.5,158.2 126.0,160.0 C125.5,161.8 123.8,164.0 122.0,165.0 C120.2,166.0 116.7,166.5 115.0,166.0 C113.3,165.5 112.5,163.7 112.0,162.0 C111.5,160.3 111.0,157.5 112.0,156.0Z"/>
<path fill="#ee8b85" d="M116.0,178.0 C117.0,177.0 122.0,180.0 124.0,180.0 C126.0,180.0 125.3,178.7 128.0,178.0 C130.7,177.3 137.0,175.7 140.0,176.0 C143.0,176.3 146.0,178.3 146.0,180.0 C146.0,181.7 144.2,184.0 140.0,186.0 C135.8,188.0 124.7,192.0 121.0,192.0 C117.3,192.0 118.8,188.3 118.0,186.0 C117.2,183.7 115.0,179.0 116.0,178.0Z"/>
<path fill="#e4746a" d="M117.0,180.0 C117.4,178.9 122.4,180.2 123.0,181.5 C123.6,182.8 121.5,188.2 120.5,188.0 C119.5,187.8 116.6,181.1 117.0,180.0Z"/>
</g></g>
<use href="#ov"/>
<path d="M20.7,31.1 V199.8" fill="none" stroke="#686868" stroke-width="1.1"/><path d="M265.0,31.1 V199.8" fill="none" stroke="#686868" stroke-width="1.1"/><path d="M20.1,31.9 H265.6" fill="none" stroke="#8a8a8a" stroke-width="1.6"/><path d="M20.1,199.3 H265.6" fill="none" stroke="#444" stroke-width="0.9"/>
<use href="#ov2"/>
<g stroke="#15152a" stroke-width="0.7" stroke-linejoin="miter"><path d="M38.6,209.1 L18.0,212.0 L38.6,214.9 Z" fill="#0c14aa"/><rect x="38.60" y="209.1" width="19.85" height="5.8" fill="#3a3cc6"/><rect x="58.45" y="209.1" width="19.85" height="5.8" fill="#5356d8"/><rect x="78.30" y="209.1" width="19.85" height="5.8" fill="#737ade"/><rect x="98.15" y="209.1" width="19.85" height="5.8" fill="#9297ec"/><rect x="118.00" y="209.1" width="19.85" height="5.8" fill="#a9abd9"/><rect x="137.85" y="209.1" width="19.85" height="5.8" fill="#e9aba2"/><rect x="157.70" y="209.1" width="19.85" height="5.8" fill="#ee8b85"/><rect x="177.55" y="209.1" width="19.85" height="5.8" fill="#e4746a"/><rect x="197.40" y="209.1" width="19.85" height="5.8" fill="#df6158"/><rect x="217.25" y="209.1" width="19.85" height="5.8" fill="#d3493d"/><path d="M237.1,209.1 L257.5,212.0 L237.1,214.9 Z" fill="#c72716"/></g>
<g class="cl"><text x="37.6" y="220.6" text-anchor="middle">-5</text><text x="57.5" y="220.6" text-anchor="middle">-4</text><text x="77.3" y="220.6" text-anchor="middle">-3</text><text x="97.2" y="220.6" text-anchor="middle">-2</text><text x="117.0" y="220.6" text-anchor="middle">-1</text><text x="137.8" y="220.6" text-anchor="middle">0</text><text x="157.7" y="220.6" text-anchor="middle">1</text><text x="177.6" y="220.6" text-anchor="middle">2</text><text x="197.4" y="220.6" text-anchor="middle">3</text><text x="217.2" y="220.6" text-anchor="middle">4</text><text x="237.1" y="220.6" text-anchor="middle">5</text></g>
</g>
<text class="ti" x="395.9" y="14.4" text-anchor="middle">(<tspan font-weight="bold">b</tspan>)</text>
<g transform="translate(-0.2,226.4)">
<g clip-path="url(#reg)"><g filter="url(#soft)">
<rect x="0" y="0" width="275" height="226" fill="#df6158"/>
<path fill="#e4746a" d="M10.0,130.0 C3.3,143.3 -9.2,192.5 10.0,205.0 C29.2,217.5 107.0,210.0 125.0,205.0 C143.0,200.0 119.3,182.5 118.0,175.0 C116.7,167.5 116.7,164.5 117.0,160.0 C117.3,155.5 118.5,151.3 120.0,148.0 C121.5,144.7 123.7,142.2 126.0,140.0 C128.3,137.8 131.3,136.8 134.0,135.0 C136.7,133.2 139.3,131.2 142.0,129.0 C144.7,126.8 147.7,124.0 150.0,122.0 C152.3,120.0 153.7,118.5 156.0,117.0 C158.3,115.5 161.0,114.0 164.0,113.0 C167.0,112.0 170.7,112.0 174.0,111.0 C177.3,110.0 181.0,108.7 184.0,107.0 C187.0,105.3 190.0,103.2 192.0,101.0 C194.0,98.8 196.0,96.8 196.0,94.0 C196.0,91.2 194.0,86.7 192.0,84.0 C190.0,81.3 186.7,79.0 184.0,78.0 C181.3,77.0 178.7,77.0 176.0,78.0 C173.3,79.0 170.0,81.7 168.0,84.0 C166.0,86.3 165.7,90.0 164.0,92.0 C162.3,94.0 159.7,96.0 158.0,96.0 C156.3,96.0 155.0,94.3 154.0,92.0 C153.0,89.7 152.5,85.7 152.0,82.0 C151.5,78.3 151.8,73.7 151.0,70.0 C150.2,66.3 148.7,63.0 147.0,60.0 C145.3,57.0 143.3,54.3 141.0,52.0 C138.7,49.7 136.5,46.7 133.0,46.0 C129.5,45.3 121.8,45.3 120.0,48.0 C118.2,50.7 121.3,57.7 122.0,62.0 C122.7,66.3 124.0,70.3 124.0,74.0 C124.0,77.7 122.7,81.0 122.0,84.0 C121.3,87.0 122.0,90.0 120.0,92.0 C118.0,94.0 113.3,94.0 110.0,96.0 C106.7,98.0 105.0,101.7 100.0,104.0 C95.0,106.3 88.3,106.5 80.0,110.0 C71.7,113.5 61.7,121.7 50.0,125.0 C38.3,128.3 16.7,116.7 10.0,130.0Z"/>
<path fill="#ee8b85" d="M14.0,146.0 C15.0,135.5 14.0,138.0 20.0,135.0 C26.0,132.0 41.7,131.8 50.0,128.0 C58.3,124.2 63.3,115.7 70.0,112.0 C76.7,108.3 85.0,107.7 90.0,106.0 C95.0,104.3 96.7,103.0 100.0,102.0 C103.3,101.0 106.3,100.8 110.0,100.0 C113.7,99.2 117.7,97.8 122.0,97.0 C126.3,96.2 132.0,95.0 136.0,95.0 C140.0,95.0 143.5,95.8 146.0,97.0 C148.5,98.2 149.7,100.2 151.0,102.0 C152.3,103.8 153.7,105.7 154.0,108.0 C154.3,110.3 154.2,113.3 153.0,116.0 C151.8,118.7 149.7,121.7 147.0,124.0 C144.3,126.3 140.7,128.2 137.0,130.0 C133.3,131.8 129.2,133.0 125.0,134.5 C120.8,136.0 116.2,137.8 112.0,139.0 C107.8,140.2 104.3,141.3 100.0,142.0 C95.7,142.7 90.7,143.5 86.0,143.0 C81.3,142.5 76.0,140.0 72.0,139.0 C68.0,138.0 64.2,136.2 62.0,137.0 C59.8,137.8 60.5,141.6 58.8,144.0 C57.1,146.4 54.5,149.3 51.6,151.2 C48.7,153.1 44.5,153.6 41.4,155.6 C38.2,157.6 34.7,160.0 32.7,162.9 C30.8,165.8 30.4,169.6 29.7,173.0 C29.0,176.4 29.2,180.3 28.3,183.2 C27.4,186.1 25.4,188.2 24.0,190.5 C22.6,192.8 21.7,195.8 20.0,197.0 C18.3,198.2 15.0,206.5 14.0,198.0 C13.0,189.5 13.0,156.5 14.0,146.0Z"/>
<path fill="#e4746a" d="M90.0,117.0 C91.8,115.2 98.0,115.3 100.0,116.0 C102.0,116.7 102.7,119.2 102.0,121.0 C101.3,122.8 97.7,125.0 96.0,127.0 C94.3,129.0 93.2,133.0 92.0,133.0 C90.8,133.0 89.3,129.7 89.0,127.0 C88.7,124.3 88.2,118.8 90.0,117.0Z"/>
<path fill="#e9aba2" d="M110.0,111.0 C111.5,108.8 116.7,108.0 120.0,108.0 C123.3,108.0 127.0,109.2 130.0,111.0 C133.0,112.8 136.3,116.7 138.0,119.0 C139.7,121.3 140.7,123.3 140.0,125.0 C139.3,126.7 136.0,129.0 134.0,129.0 C132.0,129.0 130.0,126.5 128.0,125.0 C126.0,123.5 123.7,120.3 122.0,120.0 C120.3,119.7 119.0,121.2 118.0,123.0 C117.0,124.8 117.0,129.0 116.0,131.0 C115.0,133.0 113.2,135.0 112.0,135.0 C110.8,135.0 109.2,133.3 109.0,131.0 C108.8,128.7 110.8,124.3 111.0,121.0 C111.2,117.7 108.5,113.2 110.0,111.0Z"/>
<ellipse fill="#ee8b85" cx="177.0" cy="89.0" rx="13.0" ry="6.0" transform="rotate(-40 177.0 89.0)"/>
<ellipse fill="#d3493d" cx="160.0" cy="74.0" rx="8.0" ry="9.5" transform="rotate(0 160.0 74.0)"/>
<path fill="#d3493d" d="M109.0,77.0 C110.2,75.8 113.7,74.7 115.0,75.0 C116.3,75.3 117.5,77.5 117.0,79.0 C116.5,80.5 113.5,83.5 112.0,84.0 C110.5,84.5 108.5,83.2 108.0,82.0 C107.5,80.8 107.8,78.2 109.0,77.0Z"/>
<path fill="#df6158" d="M27.0,198.0 C27.3,195.1 28.3,190.3 29.0,187.6 C29.7,184.9 30.1,183.7 31.2,181.8 C32.3,179.9 33.4,178.2 35.6,176.0 C37.8,173.8 41.6,170.9 44.3,168.7 C47.0,166.5 49.2,165.3 51.6,162.9 C54.0,160.5 57.1,156.9 58.8,154.1 C60.5,151.2 60.2,147.4 61.7,145.8 C63.2,144.2 66.0,144.3 68.0,144.5 C70.0,144.7 71.0,146.4 74.0,147.0 C77.0,147.6 81.7,147.3 86.0,148.0 C90.3,148.7 96.0,149.5 100.0,151.0 C104.0,152.5 107.3,154.7 110.0,157.0 C112.7,159.3 115.0,162.0 116.0,165.0 C117.0,168.0 114.5,168.3 116.0,175.0 C117.5,181.7 139.8,200.0 125.0,205.0 C110.2,210.0 43.3,206.2 27.0,205.0 C10.7,203.8 26.7,200.9 27.0,198.0Z"/>
<path fill="#e26b61" d="M88.0,152.0 C90.0,151.2 96.3,152.0 100.0,153.0 C103.7,154.0 107.4,156.0 110.0,158.0 C112.6,160.0 114.7,162.3 115.5,165.0 C116.3,167.7 115.9,171.5 115.0,174.0 C114.1,176.5 111.8,178.3 110.0,180.0 C108.2,181.7 106.3,183.0 104.0,184.0 C101.7,185.0 98.3,186.0 96.0,186.0 C93.7,186.0 91.3,185.7 90.0,184.0 C88.7,182.3 88.0,179.0 88.0,176.0 C88.0,173.0 90.0,169.0 90.0,166.0 C90.0,163.0 88.3,160.3 88.0,158.0 C87.7,155.7 86.0,152.8 88.0,152.0Z"/>
<path fill="#d3493d" d="M22.0,198.0 C23.1,195.1 26.3,190.3 28.3,187.6 C30.3,184.9 31.9,183.1 34.1,181.8 C36.3,180.5 39.0,179.7 41.4,179.6 C43.8,179.5 46.9,179.9 48.7,181.0 C50.5,182.1 51.8,184.0 52.3,186.1 C52.8,188.2 52.2,190.6 51.6,193.4 C51.0,196.2 53.6,201.1 48.7,203.0 C43.8,204.9 26.4,205.8 22.0,205.0 C17.6,204.2 20.9,200.9 22.0,198.0Z"/>
<path fill="#c72716" d="M31.2,190.5 C31.9,188.2 34.8,185.8 37.0,184.7 C39.2,183.6 42.5,183.5 44.3,184.0 C46.1,184.5 47.5,186.0 47.9,187.6 C48.3,189.2 47.6,191.7 46.5,193.4 C45.4,195.1 43.7,196.9 41.4,197.8 C39.1,198.7 34.4,200.0 32.7,198.8 C31.0,197.6 30.5,192.8 31.2,190.5Z"/>
<ellipse fill="#e9aba2" cx="63.9" cy="191.0" rx="8.0" ry="11.0" transform="rotate(0 63.9 191.0)"/>
<ellipse fill="#a9abd9" cx="63.9" cy="191.8" rx="6.6" ry="9.5" transform="rotate(0 63.9 191.8)"/>
<ellipse fill="#9297ec" cx="63.9" cy="192.3" rx="5.5" ry="8.0" transform="rotate(0 63.9 192.3)"/>
<ellipse fill="#737ade" cx="63.9" cy="192.8" rx="4.2" ry="6.4" transform="rotate(0 63.9 192.8)"/>
<circle fill="#d3493d" cx="86.5" cy="172.3" r="4.5"/>
<ellipse fill="#d3493d" cx="84.5" cy="190.5" rx="5.5" ry="4.4" transform="rotate(0 84.5 190.5)"/>
<ellipse fill="#c72716" cx="83.8" cy="190.8" rx="2.6" ry="2.2" transform="rotate(0 83.8 190.8)"/>
<path fill="#d3493d" d="M134.0,152.0 C135.0,147.0 135.0,147.5 136.0,145.0 C137.0,142.5 138.0,139.5 140.0,137.0 C142.0,134.5 145.0,132.0 148.0,130.0 C151.0,128.0 154.3,126.5 158.0,125.0 C161.7,123.5 167.0,122.2 170.0,121.0 C173.0,119.8 173.3,119.3 176.0,118.0 C178.7,116.7 182.7,114.3 186.0,113.0 C189.3,111.7 192.7,111.0 196.0,110.0 C199.3,109.0 202.7,107.0 206.0,107.0 C209.3,107.0 213.3,109.0 216.0,110.0 C218.7,111.0 218.8,112.5 222.0,113.0 C225.2,113.5 232.8,102.7 235.0,113.0 C237.2,123.3 252.5,164.7 235.0,175.0 C217.5,185.3 146.8,178.8 130.0,175.0 C113.2,171.2 133.0,157.0 134.0,152.0Z"/>
<path fill="#c72716" d="M137.0,152.0 C138.5,147.3 137.8,149.2 139.0,147.0 C140.2,144.8 142.2,141.3 144.0,139.0 C145.8,136.7 147.3,134.8 150.0,133.0 C152.7,131.2 156.3,129.7 160.0,128.5 C163.7,127.3 168.0,126.8 172.0,126.0 C176.0,125.2 180.7,125.0 184.0,124.0 C187.3,123.0 189.3,121.2 192.0,120.0 C194.7,118.8 197.8,117.0 200.0,117.0 C202.2,117.0 204.0,118.2 205.0,120.0 C206.0,121.8 204.3,125.5 206.0,128.0 C207.7,130.5 213.5,127.2 215.0,135.0 C216.5,142.8 229.2,168.3 215.0,175.0 C200.8,181.7 143.0,178.8 130.0,175.0 C117.0,171.2 135.5,156.7 137.0,152.0Z"/>
<path fill="#df6158" stroke="#df6158" stroke-width="8.0" stroke-linejoin="round" d="M102.0,183.5 C102.2,181.9 103.4,179.2 105.0,178.0 C106.6,176.8 109.6,175.7 111.5,176.0 C113.4,176.3 115.3,178.6 116.6,179.6 C117.9,180.6 117.6,181.9 119.5,181.8 C121.4,181.7 123.1,180.0 128.2,178.9 C133.3,177.8 146.4,172.3 150.0,175.0 C153.6,177.7 154.4,192.2 150.0,195.0 C145.6,197.8 129.1,192.2 123.8,191.5 C118.5,190.8 119.9,191.1 118.0,190.5 C116.1,189.9 113.9,188.1 112.2,187.8 C110.5,187.6 109.2,189.0 107.8,189.0 C106.3,189.0 104.5,188.5 103.5,187.6 C102.5,186.7 101.8,185.1 102.0,183.5Z"/>
<path fill="#d3493d" stroke="#d3493d" stroke-width="4.0" stroke-linejoin="round" d="M102.0,183.5 C102.2,181.9 103.4,179.2 105.0,178.0 C106.6,176.8 109.6,175.7 111.5,176.0 C113.4,176.3 115.3,178.6 116.6,179.6 C117.9,180.6 117.6,181.9 119.5,181.8 C121.4,181.7 123.1,180.0 128.2,178.9 C133.3,177.8 146.4,172.3 150.0,175.0 C153.6,177.7 154.4,192.2 150.0,195.0 C145.6,197.8 129.1,192.2 123.8,191.5 C118.5,190.8 119.9,191.1 118.0,190.5 C116.1,189.9 113.9,188.1 112.2,187.8 C110.5,187.6 109.2,189.0 107.8,189.0 C106.3,189.0 104.5,188.5 103.5,187.6 C102.5,186.7 101.8,185.1 102.0,183.5Z"/>
<path fill="#c72716" d="M102.0,183.5 C102.2,181.9 103.4,179.2 105.0,178.0 C106.6,176.8 109.6,175.7 111.5,176.0 C113.4,176.3 115.3,178.6 116.6,179.6 C117.9,180.6 117.6,181.9 119.5,181.8 C121.4,181.7 123.1,180.0 128.2,178.9 C133.3,177.8 146.4,172.3 150.0,175.0 C153.6,177.7 154.4,192.2 150.0,195.0 C145.6,197.8 129.1,192.2 123.8,191.5 C118.5,190.8 119.9,191.1 118.0,190.5 C116.1,189.9 113.9,188.1 112.2,187.8 C110.5,187.6 109.2,189.0 107.8,189.0 C106.3,189.0 104.5,188.5 103.5,187.6 C102.5,186.7 101.8,185.1 102.0,183.5Z"/>
<ellipse fill="#e9aba2" cx="110.8" cy="197.8" rx="7.5" ry="4.2" transform="rotate(0 110.8 197.8)"/>
<ellipse fill="#a9abd9" cx="110.8" cy="198.3" rx="5.5" ry="3.0" transform="rotate(0 110.8 198.3)"/>
<ellipse fill="#9297ec" cx="110.8" cy="198.8" rx="3.6" ry="2.0" transform="rotate(0 110.8 198.8)"/>
</g></g>
<use href="#ov"/>
<path d="M20.7,31.4 V200.0" fill="none" stroke="#555" stroke-width="1.0"/><path d="M265.0,31.4 V200.0" fill="none" stroke="#555" stroke-width="1.0"/><path d="M20.2,31.9 H265.5" fill="none" stroke="#555" stroke-width="1.0"/><path d="M20.2,199.3 H265.5" fill="none" stroke="#858585" stroke-width="1.4"/>
<use href="#ov2"/>
<g stroke="#15152a" stroke-width="0.7" stroke-linejoin="miter"><path d="M38.6,209.1 L18.0,212.0 L38.6,214.9 Z" fill="#c72716"/><rect x="38.60" y="209.1" width="19.85" height="5.8" fill="#d3493d"/><rect x="58.45" y="209.1" width="19.85" height="5.8" fill="#df6158"/><rect x="78.30" y="209.1" width="19.85" height="5.8" fill="#e4746a"/><rect x="98.15" y="209.1" width="19.85" height="5.8" fill="#ee8b85"/><rect x="118.00" y="209.1" width="19.85" height="5.8" fill="#e9aba2"/><rect x="137.85" y="209.1" width="19.85" height="5.8" fill="#a9abd9"/><rect x="157.70" y="209.1" width="19.85" height="5.8" fill="#9297ec"/><rect x="177.55" y="209.1" width="19.85" height="5.8" fill="#737ade"/><rect x="197.40" y="209.1" width="19.85" height="5.8" fill="#5356d8"/><rect x="217.25" y="209.1" width="19.85" height="5.8" fill="#3a3cc6"/><path d="M237.1,209.1 L257.5,212.0 L237.1,214.9 Z" fill="#0c14aa"/></g>
<g class="cl"><text x="37.6" y="220.6" text-anchor="middle">-5</text><text x="57.5" y="220.6" text-anchor="middle">-4</text><text x="77.3" y="220.6" text-anchor="middle">-3</text><text x="97.2" y="220.6" text-anchor="middle">-2</text><text x="117.0" y="220.6" text-anchor="middle">-1</text><text x="137.8" y="220.6" text-anchor="middle">0</text><text x="157.7" y="220.6" text-anchor="middle">1</text><text x="177.6" y="220.6" text-anchor="middle">2</text><text x="197.4" y="220.6" text-anchor="middle">3</text><text x="217.2" y="220.6" text-anchor="middle">4</text><text x="237.1" y="220.6" text-anchor="middle">5</text></g>
</g>
<text class="ti" x="151.0" y="242.3" text-anchor="middle">(<tspan font-weight="bold">c</tspan>)</text>
<g transform="translate(273.7,226.4)">
<g clip-path="url(#reg)"><g filter="url(#soft)">
<rect x="0" y="0" width="275" height="226" fill="#e4746a"/>
<path fill="#df6158" d="M104.0,84.0 C104.0,81.8 105.7,76.3 108.0,74.0 C110.3,71.7 115.3,71.7 118.0,70.0 C120.7,68.3 122.7,66.7 124.0,64.0 C125.3,61.3 125.0,57.0 126.0,54.0 C127.0,51.0 127.7,48.0 130.0,46.0 C132.3,44.0 136.7,42.3 140.0,42.0 C143.3,41.7 148.7,42.3 150.0,44.0 C151.3,45.7 149.0,49.3 148.0,52.0 C147.0,54.7 145.3,57.3 144.0,60.0 C142.7,62.7 141.3,65.3 140.0,68.0 C138.7,70.7 137.7,73.7 136.0,76.0 C134.3,78.3 132.3,80.3 130.0,82.0 C127.7,83.7 124.7,85.0 122.0,86.0 C119.3,87.0 116.3,87.8 114.0,88.0 C111.7,88.2 109.7,87.7 108.0,87.0 C106.3,86.3 104.0,86.2 104.0,84.0Z"/>
<path fill="#d3493d" d="M107.0,80.0 C106.5,79.0 107.2,77.2 109.0,76.0 C110.8,74.8 115.3,74.7 118.0,73.0 C120.7,71.3 123.5,69.5 125.0,66.0 C126.5,62.5 125.2,55.2 127.0,52.0 C128.8,48.8 133.2,47.7 136.0,47.0 C138.8,46.3 142.8,46.8 144.0,48.0 C145.2,49.2 144.0,52.0 143.0,54.0 C142.0,56.0 139.7,57.7 138.0,60.0 C136.3,62.3 134.7,65.7 133.0,68.0 C131.3,70.3 130.2,72.2 128.0,74.0 C125.8,75.8 122.7,77.7 120.0,79.0 C117.3,80.3 114.2,81.8 112.0,82.0 C109.8,82.2 107.5,81.0 107.0,80.0Z"/>
<path fill="#e26b61" d="M148.0,42.0 C149.7,40.7 155.0,41.0 158.0,42.0 C161.0,43.0 163.7,45.7 166.0,48.0 C168.3,50.3 171.3,53.7 172.0,56.0 C172.7,58.3 171.7,61.3 170.0,62.0 C168.3,62.7 164.7,61.0 162.0,60.0 C159.3,59.0 156.3,57.7 154.0,56.0 C151.7,54.3 149.0,52.3 148.0,50.0 C147.0,47.7 146.3,43.3 148.0,42.0Z"/>
<path fill="#e98079" d="M136.0,72.0 C137.7,69.7 142.7,68.0 146.0,68.0 C149.3,68.0 153.3,69.7 156.0,72.0 C158.7,74.3 161.3,78.3 162.0,82.0 C162.7,85.7 161.3,90.7 160.0,94.0 C158.7,97.3 156.3,101.3 154.0,102.0 C151.7,102.7 148.3,100.0 146.0,98.0 C143.7,96.0 141.7,92.7 140.0,90.0 C138.3,87.3 136.7,85.0 136.0,82.0 C135.3,79.0 134.3,74.3 136.0,72.0Z"/>
<path fill="#ee8b85" d="M137.0,85.0 C139.0,84.8 142.3,85.5 144.0,87.0 C145.7,88.5 146.7,91.5 147.0,94.0 C147.3,96.5 145.5,99.7 146.0,102.0 C146.5,104.3 151.0,106.3 150.0,108.0 C149.0,109.7 144.0,111.7 140.0,112.0 C136.0,112.3 128.0,111.7 126.0,110.0 C124.0,108.3 127.3,104.7 128.0,102.0 C128.7,99.3 129.3,96.3 130.0,94.0 C130.7,91.7 130.8,89.5 132.0,88.0 C133.2,86.5 135.0,85.2 137.0,85.0Z"/>
<path fill="#ee8b85" d="M95.0,153.0 C96.3,149.8 102.2,147.7 105.0,146.0 C107.8,144.3 109.5,144.7 112.0,143.0 C114.5,141.3 117.7,138.2 120.0,136.0 C122.3,133.8 123.7,132.0 126.0,130.0 C128.3,128.0 130.7,126.3 134.0,124.0 C137.3,121.7 142.3,117.7 146.0,116.0 C149.7,114.3 153.3,113.7 156.0,114.0 C158.7,114.3 160.3,116.0 162.0,118.0 C163.7,120.0 163.7,124.0 166.0,126.0 C168.3,128.0 172.3,128.7 176.0,130.0 C179.7,131.3 184.0,133.0 188.0,134.0 C192.0,135.0 198.0,134.0 200.0,136.0 C202.0,138.0 203.3,143.7 200.0,146.0 C196.7,148.3 185.8,149.3 180.0,150.0 C174.2,150.7 174.2,150.0 165.0,150.0 C155.8,150.0 134.2,147.5 125.0,150.0 C115.8,152.5 114.2,160.0 110.0,165.0 C105.8,170.0 102.2,180.0 100.0,180.0 C97.8,180.0 97.8,169.5 97.0,165.0 C96.2,160.5 93.7,156.2 95.0,153.0Z"/>
<path fill="#e9aba2" d="M118.0,104.0 C118.7,101.3 123.0,100.3 126.0,100.0 C129.0,99.7 132.7,101.3 136.0,102.0 C139.3,102.7 143.7,102.7 146.0,104.0 C148.3,105.3 150.0,108.0 150.0,110.0 C150.0,112.0 148.3,114.3 146.0,116.0 C143.7,117.7 139.0,118.7 136.0,120.0 C133.0,121.3 130.3,124.7 128.0,124.0 C125.7,123.3 123.7,119.3 122.0,116.0 C120.3,112.7 117.3,106.7 118.0,104.0Z"/>
<path fill="#e9aba2" d="M150.0,124.0 C152.0,123.2 156.7,123.5 160.0,125.0 C163.3,126.5 166.7,130.8 170.0,133.0 C173.3,135.2 179.0,136.3 180.0,138.0 C181.0,139.7 178.3,142.5 176.0,143.0 C173.7,143.5 169.3,142.2 166.0,141.0 C162.7,139.8 159.0,137.8 156.0,136.0 C153.0,134.2 149.0,132.0 148.0,130.0 C147.0,128.0 148.0,124.8 150.0,124.0Z"/>
<path fill="#e9aba2" d="M10.0,140.0 C17.3,128.7 46.0,136.3 54.0,137.0 C62.0,137.7 56.5,141.5 58.0,144.0 C59.5,146.5 61.2,149.7 63.0,152.0 C64.8,154.3 66.7,156.7 69.0,158.0 C71.3,159.3 74.3,160.0 77.0,160.0 C79.7,160.0 82.8,157.2 85.0,158.0 C87.2,158.8 90.2,162.0 90.0,165.0 C89.8,168.0 86.7,173.2 84.0,176.0 C81.3,178.8 77.0,180.0 74.0,182.0 C71.0,184.0 67.7,184.2 66.0,188.0 C64.3,191.8 73.3,202.2 64.0,205.0 C54.7,207.8 19.0,215.8 10.0,205.0 C1.0,194.2 2.7,151.3 10.0,140.0Z"/>
<path fill="#ee8b85" d="M54.0,134.0 C54.8,134.0 56.5,139.0 58.0,142.0 C59.5,145.0 61.2,149.3 63.0,152.0 C64.8,154.7 66.7,156.7 69.0,158.0 C71.3,159.3 74.3,160.0 77.0,160.0 C79.7,160.0 83.2,157.7 85.0,158.0 C86.8,158.3 88.2,160.0 88.0,162.0 C87.8,164.0 85.7,169.3 84.0,170.0 C82.3,170.7 80.3,167.3 78.0,166.0 C75.7,164.7 72.7,163.3 70.0,162.0 C67.3,160.7 64.3,160.0 62.0,158.0 C59.7,156.0 57.5,152.7 56.0,150.0 C54.5,147.3 53.3,144.7 53.0,142.0 C52.7,139.3 53.2,134.0 54.0,134.0Z"/>
<path fill="#ee8b85" d="M14.0,142.0 C15.7,135.3 21.8,140.7 24.0,142.0 C26.2,143.3 26.8,147.0 27.5,150.0 C28.2,153.0 28.5,156.7 28.5,160.0 C28.5,163.3 28.1,166.7 27.5,170.0 C26.9,173.3 27.2,178.0 25.0,180.0 C22.8,182.0 15.8,188.3 14.0,182.0 C12.2,175.7 12.3,148.7 14.0,142.0Z"/>
<path fill="#e4746a" d="M14.0,145.0 C15.2,139.2 19.8,143.8 21.5,145.0 C23.2,146.2 23.5,149.2 24.0,152.0 C24.5,154.8 24.6,158.7 24.5,162.0 C24.4,165.3 24.1,169.0 23.5,172.0 C22.9,175.0 22.6,178.7 21.0,180.0 C19.4,181.3 15.2,185.8 14.0,180.0 C12.8,174.2 12.8,150.8 14.0,145.0Z"/>
<ellipse fill="#e4746a" cx="49.6" cy="152.0" rx="3.8" ry="13.0" transform="rotate(-5 49.6 152.0)"/>
<circle fill="#ee8b85" cx="70.0" cy="173.0" r="10.0"/>
<circle fill="#e4746a" cx="70.0" cy="173.0" r="7.6"/>
<circle fill="#df6158" cx="70.0" cy="173.0" r="5.2"/>
<circle fill="#d3493d" cx="70.0" cy="173.0" r="2.8"/>
<path fill="#a9abd9" d="M54.0,137.0 C52.3,134.3 46.7,131.8 48.0,128.0 C49.3,124.2 56.7,117.7 62.0,114.0 C67.3,110.3 73.7,107.8 80.0,106.0 C86.3,104.2 94.7,102.7 100.0,103.0 C105.3,103.3 108.3,106.6 112.0,108.0 C115.7,109.4 119.3,110.3 122.0,111.5 C124.7,112.7 126.3,113.8 128.0,115.0 C129.7,116.2 130.0,117.8 132.0,118.5 C134.0,119.2 137.3,119.5 140.0,119.5 C142.7,119.5 145.8,118.8 148.0,118.5 C150.2,118.2 151.8,117.7 153.0,118.0 C154.2,118.3 155.5,119.7 155.5,120.5 C155.5,121.3 154.4,122.4 153.0,123.0 C151.6,123.6 149.2,123.3 147.0,124.0 C144.8,124.7 142.2,126.2 140.0,127.0 C137.8,127.8 136.0,128.2 134.0,129.0 C132.0,129.8 130.3,130.2 128.0,131.5 C125.7,132.8 122.7,134.5 120.0,136.5 C117.3,138.5 114.8,141.3 112.0,143.5 C109.2,145.7 105.8,147.8 103.0,149.5 C100.2,151.2 98.0,152.6 95.0,154.0 C92.0,155.4 88.0,157.0 85.0,158.0 C82.0,159.0 79.7,160.0 77.0,160.0 C74.3,160.0 71.3,159.3 69.0,158.0 C66.7,156.7 64.8,154.3 63.0,152.0 C61.2,149.7 59.5,146.5 58.0,144.0 C56.5,141.5 55.7,139.7 54.0,137.0Z"/>
<path fill="#a9abd9" d="M81.0,157.0 C83.5,154.3 95.8,148.7 99.0,150.0 C102.2,151.3 100.0,160.3 100.0,165.0 C100.0,169.7 99.8,174.8 99.0,178.0 C98.2,181.2 97.2,182.0 95.0,184.0 C92.8,186.0 87.8,186.5 86.0,190.0 C84.2,193.5 87.7,202.5 84.0,205.0 C80.3,207.5 67.0,207.8 64.0,205.0 C61.0,202.2 64.3,191.8 66.0,188.0 C67.7,184.2 71.3,184.0 74.0,182.0 C76.7,180.0 80.3,178.7 82.0,176.0 C83.7,173.3 84.2,169.2 84.0,166.0 C83.8,162.8 78.5,159.7 81.0,157.0Z"/>
<path fill="#9297ec" d="M58.0,136.0 C56.8,133.5 53.0,131.2 54.0,128.0 C55.0,124.8 59.7,120.2 64.0,117.0 C68.3,113.8 74.0,111.0 80.0,109.0 C86.0,107.0 94.8,104.9 100.0,105.0 C105.2,105.1 107.7,108.0 111.0,109.5 C114.3,111.0 117.5,112.3 120.0,114.0 C122.5,115.7 124.8,117.8 126.0,119.5 C127.2,121.2 127.3,122.2 127.0,124.0 C126.7,125.8 125.4,128.1 124.0,130.0 C122.6,131.9 120.7,133.5 118.5,135.5 C116.3,137.5 113.7,139.9 111.0,142.0 C108.3,144.1 105.2,146.3 102.5,148.0 C99.8,149.7 97.4,150.7 94.5,152.0 C91.6,153.3 87.9,155.1 85.0,156.0 C82.1,156.9 79.5,157.7 77.0,157.5 C74.5,157.3 72.0,156.2 70.0,155.0 C68.0,153.8 66.5,152.0 65.0,150.0 C63.5,148.0 62.2,145.3 61.0,143.0 C59.8,140.7 59.2,138.5 58.0,136.0Z"/>
<path fill="#737ade" d="M61.0,134.0 C60.0,131.7 57.2,129.5 58.0,127.0 C58.8,124.5 62.3,121.5 66.0,119.0 C69.7,116.5 74.5,114.0 80.0,112.0 C85.5,110.0 94.0,107.2 99.0,107.0 C104.0,106.8 106.8,109.2 110.0,110.5 C113.2,111.8 116.0,113.4 118.0,115.0 C120.0,116.6 121.2,118.3 122.0,120.0 C122.8,121.7 122.8,123.2 122.5,125.0 C122.2,126.8 121.1,129.2 120.0,131.0 C118.9,132.8 117.7,134.3 116.0,136.0 C114.3,137.7 112.3,139.2 110.0,141.0 C107.7,142.8 104.7,144.9 102.0,146.5 C99.3,148.1 96.8,149.3 94.0,150.5 C91.2,151.7 87.8,152.8 85.0,153.5 C82.2,154.2 79.3,155.2 77.0,155.0 C74.7,154.8 72.7,153.3 71.0,152.0 C69.3,150.7 68.2,148.8 67.0,147.0 C65.8,145.2 65.0,143.2 64.0,141.0 C63.0,138.8 62.0,136.3 61.0,134.0Z"/>
<path fill="#5356d8" d="M65.0,131.0 C64.2,128.7 63.2,126.2 64.0,124.0 C64.8,121.8 67.3,119.6 70.0,118.0 C72.7,116.4 76.3,115.7 80.0,114.5 C83.7,113.3 89.0,111.9 92.0,111.0 C95.0,110.1 95.3,108.8 98.0,109.0 C100.7,109.2 105.1,110.8 108.0,112.0 C110.9,113.2 113.6,114.5 115.5,116.0 C117.4,117.5 118.8,119.3 119.5,121.0 C120.2,122.7 120.3,124.3 120.0,126.0 C119.7,127.7 118.5,129.3 117.5,131.0 C116.5,132.7 115.4,134.3 114.0,136.0 C112.6,137.7 111.1,139.4 109.0,141.0 C106.9,142.6 104.1,144.1 101.5,145.5 C98.9,146.9 96.2,148.5 93.5,149.5 C90.8,150.5 87.6,151.4 85.0,151.5 C82.4,151.6 80.0,151.1 78.0,150.0 C76.0,148.9 74.5,147.0 73.0,145.0 C71.5,143.0 70.3,140.3 69.0,138.0 C67.7,135.7 65.8,133.3 65.0,131.0Z"/>
<ellipse fill="#737ade" cx="102.9" cy="120.8" rx="9.3" ry="9.8" transform="rotate(0 102.9 120.8)"/>
<ellipse fill="#9297ec" cx="102.9" cy="120.8" rx="6.8" ry="7.8" transform="rotate(0 102.9 120.8)"/>
<ellipse fill="#a9abd9" cx="102.9" cy="120.8" rx="2.6" ry="3.2" transform="rotate(0 102.9 120.8)"/>
<path fill="#3a3cc6" d="M66.0,129.0 C65.7,126.8 65.2,124.0 66.0,122.0 C66.8,120.0 68.5,117.8 71.0,117.0 C73.5,116.2 78.0,116.5 81.0,117.0 C84.0,117.5 87.2,118.3 89.0,120.0 C90.8,121.7 90.7,125.0 91.5,127.0 C92.3,129.0 92.6,131.5 94.0,132.0 C95.4,132.5 97.7,130.3 100.0,130.0 C102.3,129.7 106.0,129.2 108.0,130.0 C110.0,130.8 111.8,133.2 112.0,135.0 C112.2,136.8 110.8,138.8 109.0,140.5 C107.2,142.2 103.7,144.1 101.0,145.5 C98.3,146.9 95.7,148.3 93.0,149.0 C90.3,149.7 87.5,149.9 85.0,149.5 C82.5,149.1 80.2,147.9 78.0,146.5 C75.8,145.1 73.7,142.9 72.0,141.0 C70.3,139.1 69.0,137.0 68.0,135.0 C67.0,133.0 66.3,131.2 66.0,129.0Z"/>
<path fill="#0c14aa" d="M67.5,121.5 C68.2,119.8 69.8,117.5 72.0,117.0 C74.2,116.5 78.5,117.7 81.0,118.5 C83.5,119.3 85.8,120.1 87.0,122.0 C88.2,123.9 87.3,127.9 88.0,130.0 C88.7,132.1 89.0,134.2 91.0,134.5 C93.0,134.8 97.5,132.4 100.0,132.0 C102.5,131.6 104.3,131.3 106.0,131.8 C107.7,132.3 109.7,133.6 110.0,135.0 C110.3,136.4 109.6,138.4 108.0,140.0 C106.4,141.6 103.1,143.5 100.5,144.8 C97.9,146.1 95.1,147.5 92.5,148.0 C89.9,148.5 87.2,148.6 85.0,148.0 C82.8,147.4 81.0,146.0 79.0,144.5 C77.0,143.0 74.6,140.9 73.0,139.0 C71.4,137.1 70.3,135.0 69.5,133.0 C68.7,131.0 68.3,128.9 68.0,127.0 C67.7,125.1 66.8,123.2 67.5,121.5Z"/>
<path fill="#a9abd9" d="M46.0,184.0 C47.3,181.0 50.0,185.9 52.0,187.0 C54.0,188.1 55.7,190.0 58.0,190.5 C60.3,191.0 64.3,187.6 66.0,190.0 C67.7,192.4 71.7,202.5 68.0,205.0 C64.3,207.5 47.7,208.5 44.0,205.0 C40.3,201.5 44.7,187.0 46.0,184.0Z"/>
<path fill="#9297ec" d="M50.0,190.0 C51.3,187.9 54.0,191.8 56.0,192.5 C58.0,193.2 60.0,191.9 62.0,194.0 C64.0,196.1 70.3,203.2 68.0,205.0 C65.7,206.8 51.0,207.5 48.0,205.0 C45.0,202.5 48.7,192.1 50.0,190.0Z"/>
<circle fill="#9297ec" cx="74.0" cy="193.0" r="5.5"/>
<circle fill="#737ade" cx="74.0" cy="193.0" r="3.5"/>
<path fill="#a9abd9" stroke="#a9abd9" stroke-width="13.0" stroke-linejoin="round" d="M28.5,187.0 C30.1,185.0 32.8,184.3 35.0,184.0 C37.2,183.7 40.1,184.1 42.0,185.0 C43.9,185.9 45.6,187.7 46.5,189.5 C47.4,191.3 47.6,193.2 47.5,196.0 C47.4,198.8 49.4,204.3 46.0,206.0 C42.6,207.7 30.4,207.7 27.0,206.0 C23.6,204.3 25.2,199.2 25.5,196.0 C25.8,192.8 26.9,189.0 28.5,187.0Z"/>
<path fill="#9297ec" stroke="#9297ec" stroke-width="10.4" stroke-linejoin="round" d="M28.5,187.0 C30.1,185.0 32.8,184.3 35.0,184.0 C37.2,183.7 40.1,184.1 42.0,185.0 C43.9,185.9 45.6,187.7 46.5,189.5 C47.4,191.3 47.6,193.2 47.5,196.0 C47.4,198.8 49.4,204.3 46.0,206.0 C42.6,207.7 30.4,207.7 27.0,206.0 C23.6,204.3 25.2,199.2 25.5,196.0 C25.8,192.8 26.9,189.0 28.5,187.0Z"/>
<path fill="#737ade" stroke="#737ade" stroke-width="7.8" stroke-linejoin="round" d="M28.5,187.0 C30.1,185.0 32.8,184.3 35.0,184.0 C37.2,183.7 40.1,184.1 42.0,185.0 C43.9,185.9 45.6,187.7 46.5,189.5 C47.4,191.3 47.6,193.2 47.5,196.0 C47.4,198.8 49.4,204.3 46.0,206.0 C42.6,207.7 30.4,207.7 27.0,206.0 C23.6,204.3 25.2,199.2 25.5,196.0 C25.8,192.8 26.9,189.0 28.5,187.0Z"/>
<path fill="#5356d8" stroke="#5356d8" stroke-width="5.2" stroke-linejoin="round" d="M28.5,187.0 C30.1,185.0 32.8,184.3 35.0,184.0 C37.2,183.7 40.1,184.1 42.0,185.0 C43.9,185.9 45.6,187.7 46.5,189.5 C47.4,191.3 47.6,193.2 47.5,196.0 C47.4,198.8 49.4,204.3 46.0,206.0 C42.6,207.7 30.4,207.7 27.0,206.0 C23.6,204.3 25.2,199.2 25.5,196.0 C25.8,192.8 26.9,189.0 28.5,187.0Z"/>
<path fill="#3a3cc6" stroke="#3a3cc6" stroke-width="2.6" stroke-linejoin="round" d="M28.5,187.0 C30.1,185.0 32.8,184.3 35.0,184.0 C37.2,183.7 40.1,184.1 42.0,185.0 C43.9,185.9 45.6,187.7 46.5,189.5 C47.4,191.3 47.6,193.2 47.5,196.0 C47.4,198.8 49.4,204.3 46.0,206.0 C42.6,207.7 30.4,207.7 27.0,206.0 C23.6,204.3 25.2,199.2 25.5,196.0 C25.8,192.8 26.9,189.0 28.5,187.0Z"/>
<path fill="#0c14aa" d="M28.5,187.0 C30.1,185.0 32.8,184.3 35.0,184.0 C37.2,183.7 40.1,184.1 42.0,185.0 C43.9,185.9 45.6,187.7 46.5,189.5 C47.4,191.3 47.6,193.2 47.5,196.0 C47.4,198.8 49.4,204.3 46.0,206.0 C42.6,207.7 30.4,207.7 27.0,206.0 C23.6,204.3 25.2,199.2 25.5,196.0 C25.8,192.8 26.9,189.0 28.5,187.0Z"/>
<ellipse fill="#e4746a" cx="116.0" cy="157.0" rx="9.0" ry="6.0" transform="rotate(0 116.0 157.0)"/>
<circle fill="#df6158" cx="116.5" cy="157.0" r="3.5"/>
<path fill="#df6158" stroke="#df6158" stroke-width="10.8" stroke-linejoin="round" d="M192.0,79.0 C189.7,81.3 187.5,82.2 186.0,84.0 C184.5,85.8 183.7,87.7 183.0,90.0 C182.3,92.3 183.2,95.8 182.0,98.0 C180.8,100.2 177.3,101.3 176.0,103.0 C174.7,104.7 173.7,106.2 174.0,108.0 C174.3,109.8 176.3,112.2 178.0,114.0 C179.7,115.8 182.0,117.7 184.0,119.0 C186.0,120.3 187.3,121.2 190.0,122.0 C192.7,122.8 197.7,122.7 200.0,124.0 C202.3,125.3 201.5,128.2 204.0,130.0 C206.5,131.8 209.0,135.0 215.0,135.0 C221.0,135.0 235.8,140.8 240.0,130.0 C244.2,119.2 246.7,80.0 240.0,70.0 C233.3,60.0 208.0,68.5 200.0,70.0 C192.0,71.5 194.3,76.7 192.0,79.0Z"/>
<path fill="#d3493d" stroke="#d3493d" stroke-width="5.4" stroke-linejoin="round" d="M192.0,79.0 C189.7,81.3 187.5,82.2 186.0,84.0 C184.5,85.8 183.7,87.7 183.0,90.0 C182.3,92.3 183.2,95.8 182.0,98.0 C180.8,100.2 177.3,101.3 176.0,103.0 C174.7,104.7 173.7,106.2 174.0,108.0 C174.3,109.8 176.3,112.2 178.0,114.0 C179.7,115.8 182.0,117.7 184.0,119.0 C186.0,120.3 187.3,121.2 190.0,122.0 C192.7,122.8 197.7,122.7 200.0,124.0 C202.3,125.3 201.5,128.2 204.0,130.0 C206.5,131.8 209.0,135.0 215.0,135.0 C221.0,135.0 235.8,140.8 240.0,130.0 C244.2,119.2 246.7,80.0 240.0,70.0 C233.3,60.0 208.0,68.5 200.0,70.0 C192.0,71.5 194.3,76.7 192.0,79.0Z"/>
<path fill="#c72716" d="M192.0,79.0 C189.7,81.3 187.5,82.2 186.0,84.0 C184.5,85.8 183.7,87.7 183.0,90.0 C182.3,92.3 183.2,95.8 182.0,98.0 C180.8,100.2 177.3,101.3 176.0,103.0 C174.7,104.7 173.7,106.2 174.0,108.0 C174.3,109.8 176.3,112.2 178.0,114.0 C179.7,115.8 182.0,117.7 184.0,119.0 C186.0,120.3 187.3,121.2 190.0,122.0 C192.7,122.8 197.7,122.7 200.0,124.0 C202.3,125.3 201.5,128.2 204.0,130.0 C206.5,131.8 209.0,135.0 215.0,135.0 C221.0,135.0 235.8,140.8 240.0,130.0 C244.2,119.2 246.7,80.0 240.0,70.0 C233.3,60.0 208.0,68.5 200.0,70.0 C192.0,71.5 194.3,76.7 192.0,79.0Z"/>
<path fill="#e4746a" stroke="#e4746a" stroke-width="13.2" stroke-linejoin="round" d="M140.0,143.0 C141.8,141.2 145.3,139.3 148.0,139.0 C150.7,138.7 154.0,139.7 156.0,141.0 C158.0,142.3 159.0,145.0 160.0,147.0 C161.0,149.0 162.3,151.2 162.0,153.0 C161.7,154.8 160.0,156.5 158.0,158.0 C156.0,159.5 152.7,161.0 150.0,162.0 C147.3,163.0 144.3,163.3 142.0,164.0 C139.7,164.7 137.2,166.7 136.0,166.0 C134.8,165.3 134.8,162.7 135.0,160.0 C135.2,157.3 136.2,152.8 137.0,150.0 C137.8,147.2 138.2,144.8 140.0,143.0Z"/>
<path fill="#df6158" stroke="#df6158" stroke-width="8.8" stroke-linejoin="round" d="M140.0,143.0 C141.8,141.2 145.3,139.3 148.0,139.0 C150.7,138.7 154.0,139.7 156.0,141.0 C158.0,142.3 159.0,145.0 160.0,147.0 C161.0,149.0 162.3,151.2 162.0,153.0 C161.7,154.8 160.0,156.5 158.0,158.0 C156.0,159.5 152.7,161.0 150.0,162.0 C147.3,163.0 144.3,163.3 142.0,164.0 C139.7,164.7 137.2,166.7 136.0,166.0 C134.8,165.3 134.8,162.7 135.0,160.0 C135.2,157.3 136.2,152.8 137.0,150.0 C137.8,147.2 138.2,144.8 140.0,143.0Z"/>
<path fill="#d3493d" stroke="#d3493d" stroke-width="4.4" stroke-linejoin="round" d="M140.0,143.0 C141.8,141.2 145.3,139.3 148.0,139.0 C150.7,138.7 154.0,139.7 156.0,141.0 C158.0,142.3 159.0,145.0 160.0,147.0 C161.0,149.0 162.3,151.2 162.0,153.0 C161.7,154.8 160.0,156.5 158.0,158.0 C156.0,159.5 152.7,161.0 150.0,162.0 C147.3,163.0 144.3,163.3 142.0,164.0 C139.7,164.7 137.2,166.7 136.0,166.0 C134.8,165.3 134.8,162.7 135.0,160.0 C135.2,157.3 136.2,152.8 137.0,150.0 C137.8,147.2 138.2,144.8 140.0,143.0Z"/>
<path fill="#c72716" d="M140.0,143.0 C141.8,141.2 145.3,139.3 148.0,139.0 C150.7,138.7 154.0,139.7 156.0,141.0 C158.0,142.3 159.0,145.0 160.0,147.0 C161.0,149.0 162.3,151.2 162.0,153.0 C161.7,154.8 160.0,156.5 158.0,158.0 C156.0,159.5 152.7,161.0 150.0,162.0 C147.3,163.0 144.3,163.3 142.0,164.0 C139.7,164.7 137.2,166.7 136.0,166.0 C134.8,165.3 134.8,162.7 135.0,160.0 C135.2,157.3 136.2,152.8 137.0,150.0 C137.8,147.2 138.2,144.8 140.0,143.0Z"/>
<path fill="#ee8b85" stroke="#ee8b85" stroke-width="16.0" stroke-linejoin="round" d="M94.0,205.0 C85.3,202.8 96.3,195.3 98.0,192.0 C99.7,188.7 102.0,187.0 104.0,185.0 C106.0,183.0 107.7,181.2 110.0,180.0 C112.3,178.8 115.3,178.2 118.0,178.0 C120.7,177.8 120.7,179.3 126.0,179.0 C131.3,178.7 146.0,171.7 150.0,176.0 C154.0,180.3 159.3,200.2 150.0,205.0 C140.7,209.8 102.7,207.2 94.0,205.0Z"/>
<path fill="#e4746a" stroke="#e4746a" stroke-width="12.0" stroke-linejoin="round" d="M94.0,205.0 C85.3,202.8 96.3,195.3 98.0,192.0 C99.7,188.7 102.0,187.0 104.0,185.0 C106.0,183.0 107.7,181.2 110.0,180.0 C112.3,178.8 115.3,178.2 118.0,178.0 C120.7,177.8 120.7,179.3 126.0,179.0 C131.3,178.7 146.0,171.7 150.0,176.0 C154.0,180.3 159.3,200.2 150.0,205.0 C140.7,209.8 102.7,207.2 94.0,205.0Z"/>
<path fill="#df6158" stroke="#df6158" stroke-width="8.0" stroke-linejoin="round" d="M94.0,205.0 C85.3,202.8 96.3,195.3 98.0,192.0 C99.7,188.7 102.0,187.0 104.0,185.0 C106.0,183.0 107.7,181.2 110.0,180.0 C112.3,178.8 115.3,178.2 118.0,178.0 C120.7,177.8 120.7,179.3 126.0,179.0 C131.3,178.7 146.0,171.7 150.0,176.0 C154.0,180.3 159.3,200.2 150.0,205.0 C140.7,209.8 102.7,207.2 94.0,205.0Z"/>
<path fill="#d3493d" stroke="#d3493d" stroke-width="4.0" stroke-linejoin="round" d="M94.0,205.0 C85.3,202.8 96.3,195.3 98.0,192.0 C99.7,188.7 102.0,187.0 104.0,185.0 C106.0,183.0 107.7,181.2 110.0,180.0 C112.3,178.8 115.3,178.2 118.0,178.0 C120.7,177.8 120.7,179.3 126.0,179.0 C131.3,178.7 146.0,171.7 150.0,176.0 C154.0,180.3 159.3,200.2 150.0,205.0 C140.7,209.8 102.7,207.2 94.0,205.0Z"/>
<path fill="#c72716" d="M94.0,205.0 C85.3,202.8 96.3,195.3 98.0,192.0 C99.7,188.7 102.0,187.0 104.0,185.0 C106.0,183.0 107.7,181.2 110.0,180.0 C112.3,178.8 115.3,178.2 118.0,178.0 C120.7,177.8 120.7,179.3 126.0,179.0 C131.3,178.7 146.0,171.7 150.0,176.0 C154.0,180.3 159.3,200.2 150.0,205.0 C140.7,209.8 102.7,207.2 94.0,205.0Z"/>
</g></g>
<use href="#ov"/>
<path d="M20.7,31.4 V200.0" fill="none" stroke="#555" stroke-width="1.0"/><path d="M265.0,31.4 V200.0" fill="none" stroke="#555" stroke-width="1.0"/><path d="M20.2,31.9 H265.5" fill="none" stroke="#555" stroke-width="1.0"/><path d="M20.2,199.3 H265.5" fill="none" stroke="#858585" stroke-width="1.4"/>
<use href="#ov2"/>
<g stroke="#15152a" stroke-width="0.7" stroke-linejoin="miter"><path d="M38.6,209.1 L18.0,212.0 L38.6,214.9 Z" fill="#c72716"/><rect x="38.60" y="209.1" width="19.85" height="5.8" fill="#d3493d"/><rect x="58.45" y="209.1" width="19.85" height="5.8" fill="#df6158"/><rect x="78.30" y="209.1" width="19.85" height="5.8" fill="#e4746a"/><rect x="98.15" y="209.1" width="19.85" height="5.8" fill="#ee8b85"/><rect x="118.00" y="209.1" width="19.85" height="5.8" fill="#e9aba2"/><rect x="137.85" y="209.1" width="19.85" height="5.8" fill="#a9abd9"/><rect x="157.70" y="209.1" width="19.85" height="5.8" fill="#9297ec"/><rect x="177.55" y="209.1" width="19.85" height="5.8" fill="#737ade"/><rect x="197.40" y="209.1" width="19.85" height="5.8" fill="#5356d8"/><rect x="217.25" y="209.1" width="19.85" height="5.8" fill="#3a3cc6"/><path d="M237.1,209.1 L257.5,212.0 L237.1,214.9 Z" fill="#0c14aa"/></g>
<g class="cl"><text x="37.6" y="220.6" text-anchor="middle">-5</text><text x="57.5" y="220.6" text-anchor="middle">-4</text><text x="77.3" y="220.6" text-anchor="middle">-3</text><text x="97.2" y="220.6" text-anchor="middle">-2</text><text x="117.0" y="220.6" text-anchor="middle">-1</text><text x="137.8" y="220.6" text-anchor="middle">0</text><text x="157.7" y="220.6" text-anchor="middle">1</text><text x="177.6" y="220.6" text-anchor="middle">2</text><text x="197.4" y="220.6" text-anchor="middle">3</text><text x="217.2" y="220.6" text-anchor="middle">4</text><text x="237.1" y="220.6" text-anchor="middle">5</text></g>
</g>
<text class="ti" x="398.2" y="242.3" text-anchor="middle">(<tspan font-weight="bold">d</tspan>)</text>
</svg>
</body></html>
